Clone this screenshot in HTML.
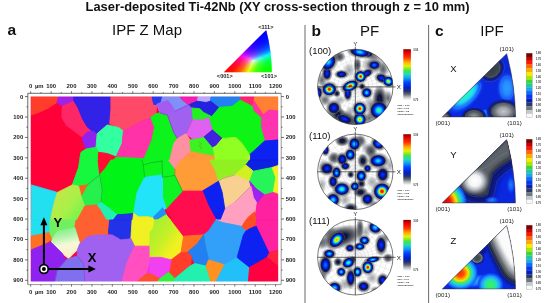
<!DOCTYPE html>
<html><head><meta charset="utf-8"><title>Laser-deposited Ti-42Nb</title>
<style>
html,body{margin:0;padding:0;background:#fff;}
body{width:550px;height:303px;overflow:hidden;font-family:"Liberation Sans",sans-serif;}
svg{display:block}
text{font-family:"Liberation Sans",sans-serif;}
</style></head><body>
<svg width="550" height="303" viewBox="0 0 550 303">
<defs>
<clipPath id="mapclip"><rect x="30.7" y="96.6" width="247.5" height="185.00000000000003"/></clipPath>
<filter id="soft" x="-5%" y="-5%" width="110%" height="110%"><feGaussianBlur stdDeviation="0.45"/></filter>
</defs>
<rect width="550" height="303" fill="#fff"/>

<g clip-path="url(#mapclip)"><g filter="url(#soft)">
<rect x="28.7" y="94.6" width="251.5" height="189.00000000000003" fill="#ff0038"/>
<polygon points="31.2,114.9 38.7,112.4 48.7,107.9 56.9,102.5 62.4,106.2 61.9,117.4 66.1,124.9 82.3,137.3 83.5,143.6 86.0,149.0 81.0,152.3 78.6,165.0 31.2,165.0" fill="#ff0038" stroke="#ff0038" stroke-width="0.9" stroke-linejoin="round"/>
<polygon points="31.2,96.7 58.6,96.7 56.9,102.5 48.7,107.9 38.7,112.4 31.2,114.9" fill="#ff3c2c" stroke="#ff3c2c" stroke-width="0.9" stroke-linejoin="round"/>
<polygon points="58.6,96.7 73.6,96.7 74.1,101.2 62.4,106.2 56.9,102.5" fill="#a020e8" stroke="#a020e8" stroke-width="0.9" stroke-linejoin="round"/>
<polygon points="62.4,106.2 74.1,101.2 78.1,107.9 82.3,118.4 87.3,126.9 92.8,131.6 87.3,132.3 82.3,137.3 66.1,124.9 61.9,117.4" fill="#ff2868" stroke="#ff2868" stroke-width="0.9" stroke-linejoin="round"/>
<polygon points="73.6,96.7 110.9,96.7 110.9,109.9 109.7,123.6 107.2,124.9 97.2,133.6 92.8,131.6 87.3,126.9 82.3,118.4 78.1,107.9 74.1,101.2" fill="#3020e8" stroke="#3020e8" stroke-width="0.9" stroke-linejoin="round"/>
<polygon points="110.9,96.7 152.0,96.7 157.0,104.9 155.8,113.7 150.8,117.4 142.1,121.1 123.4,131.1 118.4,127.4 109.7,123.6 110.9,109.9" fill="#ff4868" stroke="#ff4868" stroke-width="0.9" stroke-linejoin="round"/>
<polygon points="87.3,132.3 93.5,131.1 97.2,134.8 96.0,147.3 86.0,149.0 82.8,141.1 82.3,137.3" fill="#9020f0" stroke="#9020f0" stroke-width="0.9" stroke-linejoin="round"/>
<polygon points="97.2,133.6 107.2,124.9 118.4,127.4 123.4,131.1 122.1,143.6 115.9,156.8 107.2,153.5 98.5,152.3 96.0,147.3" fill="#30ffa0" stroke="#30ffa0" stroke-width="0.9" stroke-linejoin="round"/>
<polygon points="123.4,131.1 142.1,121.1 150.8,117.4 154.5,127.4 152.0,139.8 144.1,158.5 115.9,157.3 122.1,143.6" fill="#ff30a8" stroke="#ff30a8" stroke-width="0.9" stroke-linejoin="round"/>
<polygon points="86.0,149.0 96.0,147.3 98.5,152.3 98.0,165.0 78.6,165.0 81.0,152.3" fill="#18f83c" stroke="#18f83c" stroke-width="0.9" stroke-linejoin="round"/>
<polygon points="98.5,152.3 107.2,153.5 115.9,156.8 109.7,165.0 98.0,165.0" fill="#ff1030" stroke="#ff1030" stroke-width="0.9" stroke-linejoin="round"/>
<polygon points="115.9,157.3 144.1,158.5 144.6,165.0 109.7,165.0" fill="#04f418" stroke="#04f418" stroke-width="0.9" stroke-linejoin="round"/>
<polygon points="150.7,117.4 155.7,113.7 160.0,112.9 167.4,114.9 173.7,132.3 177.4,138.6 173.7,143.6 168.7,165.0 144.5,165.0 144.0,158.5 152.0,139.8 154.5,127.4" fill="#0cf41c" stroke="#0cf41c" stroke-width="0.9" stroke-linejoin="round"/>
<polygon points="152.0,96.7 162.5,96.7 161.2,102.5 157.0,104.4 153.7,104.4" fill="#2838f0" stroke="#2838f0" stroke-width="0.9" stroke-linejoin="round"/>
<polygon points="162.5,96.7 179.9,96.7 182.4,100.0 188.6,104.9 174.9,111.2 167.4,114.9 160.0,112.9 157.0,104.4 161.2,102.5" fill="#8090f8" stroke="#8090f8" stroke-width="0.9" stroke-linejoin="round"/>
<polygon points="161.2,102.5 167.9,100.5 171.9,105.4 174.9,111.2 167.4,114.9 160.0,112.9 157.0,104.4" fill="#a45cf0" stroke="#a45cf0" stroke-width="0.9" stroke-linejoin="round"/>
<polygon points="179.9,96.7 198.1,96.7 197.3,101.2 188.6,104.9 182.4,100.0" fill="#f020b0" stroke="#f020b0" stroke-width="0.9" stroke-linejoin="round"/>
<polygon points="198.1,96.7 211.0,96.7 210.5,101.2 206.0,102.5 197.3,101.2" fill="#b8a8ff" stroke="#b8a8ff" stroke-width="0.9" stroke-linejoin="round"/>
<polygon points="211.0,96.7 240.9,96.7 240.2,100.0 232.2,106.2 218.5,107.4 210.5,101.2" fill="#2080f0" stroke="#2080f0" stroke-width="0.9" stroke-linejoin="round"/>
<polygon points="240.9,96.7 254.6,96.7 254.1,101.2 252.1,106.2 240.2,100.0" fill="#ff2070" stroke="#ff2070" stroke-width="0.9" stroke-linejoin="round"/>
<polygon points="254.6,96.7 279.5,96.7 279.5,111.2 269.1,109.9 263.3,114.9 254.1,101.2" fill="#ff8030" stroke="#ff8030" stroke-width="0.9" stroke-linejoin="round"/>
<polygon points="252.1,106.2 254.1,101.2 263.3,114.9 260.8,117.4 253.4,111.2" fill="#ff30a0" stroke="#ff30a0" stroke-width="0.9" stroke-linejoin="round"/>
<polygon points="263.3,114.9 269.1,109.9 279.5,111.2 279.5,139.8 264.6,141.1 260.8,127.4 260.8,117.4" fill="#ff30b0" stroke="#ff30b0" stroke-width="0.9" stroke-linejoin="round"/>
<polygon points="218.5,107.4 232.2,106.2 240.2,100.0 252.1,106.2 253.4,111.2 260.8,117.4 260.8,127.4 264.6,141.1 249.6,154.8 242.2,143.6 235.9,137.3 222.2,138.6 212.3,129.9 208.5,117.4 211.0,116.2" fill="#08f418" stroke="#08f418" stroke-width="0.9" stroke-linejoin="round"/>
<polygon points="188.6,104.9 197.3,101.2 206.0,102.5 210.5,101.2 218.5,107.4 211.0,116.2 203.6,112.4 199.8,108.7 191.1,107.9" fill="#2020e0" stroke="#2020e0" stroke-width="0.9" stroke-linejoin="round"/>
<polygon points="191.1,107.9 199.8,108.7 203.6,112.4 211.0,116.2 208.5,117.4 203.6,119.9 192.3,119.9" fill="#20f020" stroke="#20f020" stroke-width="0.9" stroke-linejoin="round"/>
<polygon points="174.9,111.2 188.6,104.9 191.1,107.9 192.3,119.9 186.1,133.6 177.4,138.6 173.7,132.3 167.4,114.9" fill="#a060f0" stroke="#a060f0" stroke-width="0.9" stroke-linejoin="round"/>
<polygon points="192.3,119.9 203.6,119.9 208.5,117.4 212.3,129.9 203.6,137.3 193.6,139.8 186.1,133.6" fill="#e060f0" stroke="#e060f0" stroke-width="0.9" stroke-linejoin="round"/>
<polygon points="212.3,129.9 222.2,138.6 216.0,146.0 212.3,147.8 203.6,137.3" fill="#4020e0" stroke="#4020e0" stroke-width="0.9" stroke-linejoin="round"/>
<polygon points="222.2,138.6 235.9,137.3 242.2,143.6 249.6,154.8 244.7,165.0 214.8,165.0 212.3,147.8 216.0,146.0" fill="#90ff20" stroke="#90ff20" stroke-width="0.9" stroke-linejoin="round"/>
<polygon points="177.4,138.6 186.1,133.6 189.9,139.8 191.1,152.3 184.9,157.3 177.4,165.0 168.7,165.0 173.7,143.6" fill="#ff90a0" stroke="#ff90a0" stroke-width="0.9" stroke-linejoin="round"/>
<polygon points="193.6,139.8 203.6,137.3 212.3,147.8 213.8,155.3 208.8,155.5 191.1,151.5 189.9,139.8" fill="#38f420" stroke="#38f420" stroke-width="0.9" stroke-linejoin="round"/>
<polygon points="191.1,151.5 208.8,155.5 213.8,155.3 214.8,165.0 177.4,165.0 184.9,157.3" fill="#ff9838" stroke="#ff9838" stroke-width="0.9" stroke-linejoin="round"/>
<polygon points="264.6,141.1 279.5,139.8 279.5,165.0 249.6,165.0 249.6,154.8" fill="#1020f0" stroke="#1020f0" stroke-width="0.9" stroke-linejoin="round"/>
<polygon points="244.7,165.0 249.6,154.8 249.6,165.0" fill="#d0f020" stroke="#d0f020" stroke-width="0.9" stroke-linejoin="round"/>
<polygon points="31.2,160.0 79.8,160.0 78.6,167.5 72.3,184.9 57.4,192.4 31.2,184.9" fill="#ff0038" stroke="#ff0038" stroke-width="0.9" stroke-linejoin="round"/>
<polygon points="31.2,184.9 57.4,192.4 54.4,202.3 51.2,216.0 49.9,232.2 31.2,235.0" fill="#20e0f0" stroke="#20e0f0" stroke-width="0.9" stroke-linejoin="round"/>
<polygon points="79.8,160.0 98.5,160.0 99.7,174.9 87.3,184.9 78.6,186.2 72.3,184.9 78.6,167.5" fill="#18f83c" stroke="#18f83c" stroke-width="0.9" stroke-linejoin="round"/>
<polygon points="98.0,160.0 110.9,160.0 106.0,167.5 99.7,174.9" fill="#ff1030" stroke="#ff1030" stroke-width="0.9" stroke-linejoin="round"/>
<polygon points="99.7,174.9 106.0,167.5 110.9,160.0 142.1,160.0 143.3,165.0 144.6,177.4 137.1,192.4 133.4,213.6 117.2,214.8 109.7,208.6 101.0,202.3 102.2,189.9" fill="#04f418" stroke="#04f418" stroke-width="0.9" stroke-linejoin="round"/>
<polygon points="142.1,160.0 162.0,160.0 162.0,174.9 144.6,177.4 143.3,165.0" fill="#0cf41c" stroke="#0cf41c" stroke-width="0.9" stroke-linejoin="round"/>
<polygon points="144.6,177.4 162.0,174.9 164.5,177.4 164.5,209.8 162.7,208.6 153.5,216.8 138.3,216.8 133.6,213.3 137.1,192.4" fill="#24e4f8" stroke="#24e4f8" stroke-width="0.9" stroke-linejoin="round"/>
<polygon points="87.3,184.9 99.7,174.9 102.2,189.9 101.0,202.3 97.2,204.8 84.8,206.1 81.0,196.1" fill="#28f04c" stroke="#28f04c" stroke-width="0.9" stroke-linejoin="round"/>
<polygon points="78.6,186.2 87.3,184.9 81.0,196.1" fill="#ff6020" stroke="#ff6020" stroke-width="0.9" stroke-linejoin="round"/>
<linearGradient id="gg0" gradientUnits="userSpaceOnUse" x1="54.9" y1="197.4" x2="82.3" y2="217.3"><stop offset="0" stop-color="#c0e848"/><stop offset="0.5" stop-color="#a8f048"/><stop offset="1" stop-color="#70f448"/></linearGradient>
<polygon points="57.4,192.4 72.3,184.9 78.6,186.2 81.0,196.1 84.8,206.1 76.1,222.3 57.4,232.2 49.9,232.2 51.2,216.0 54.4,202.3" fill="url(#gg0)" stroke="url(#gg0)" stroke-width="0.9" stroke-linejoin="round"/>
<polygon points="84.8,206.1 97.2,204.8 101.0,209.8 109.7,224.8 107.2,235.0 74.8,235.0 76.1,222.3" fill="#ff6030" stroke="#ff6030" stroke-width="0.9" stroke-linejoin="round"/>
<polygon points="97.2,204.8 101.0,202.3 109.7,208.6 117.2,214.8 109.7,224.8 101.0,209.8" fill="#20f0b0" stroke="#20f0b0" stroke-width="0.9" stroke-linejoin="round"/>
<polygon points="117.2,214.8 133.4,213.6 132.1,227.3 129.6,235.0 110.9,235.0 109.7,224.8" fill="#2030e8" stroke="#2030e8" stroke-width="0.9" stroke-linejoin="round"/>
<polygon points="133.6,213.3 138.3,216.8 153.5,216.8 156.3,223.3 155.8,235.0 129.6,235.0 132.1,227.3" fill="#f0f020" stroke="#f0f020" stroke-width="0.9" stroke-linejoin="round"/>
<polygon points="162.7,207.8 166.5,215.0 156.3,223.3 153.5,216.8" fill="#2090f0" stroke="#2090f0" stroke-width="0.9" stroke-linejoin="round"/>
<polygon points="49.9,232.2 57.4,232.2 62.4,235.0 48.7,235.0" fill="#80ffb0" stroke="#80ffb0" stroke-width="0.9" stroke-linejoin="round"/>
<polygon points="162.0,160.0 168.7,160.0 174.9,168.7 174.9,175.4 162.5,177.4" fill="#10f420" stroke="#10f420" stroke-width="0.9" stroke-linejoin="round"/>
<polygon points="168.7,160.0 181.1,160.0 174.9,168.7" fill="#ff90a0" stroke="#ff90a0" stroke-width="0.9" stroke-linejoin="round"/>
<polygon points="181.1,160.0 209.8,160.0 215.3,170.0 218.5,181.2 202.3,191.1 182.4,191.1 174.9,175.4 174.9,168.7" fill="#ff9c38" stroke="#ff9c38" stroke-width="0.9" stroke-linejoin="round"/>
<polygon points="209.8,160.0 249.6,160.0 245.9,165.0 237.2,172.5 234.7,174.9 222.2,178.7 218.5,181.2 215.3,170.0" fill="#90f020" stroke="#90f020" stroke-width="0.9" stroke-linejoin="round"/>
<polygon points="249.6,160.0 279.5,160.0 279.5,165.0 272.1,167.5 253.4,171.2 245.9,165.0" fill="#1020e0" stroke="#1020e0" stroke-width="0.9" stroke-linejoin="round"/>
<polygon points="237.2,172.5 245.9,165.0 253.4,171.2 249.6,181.2 234.7,174.9" fill="#d0f020" stroke="#d0f020" stroke-width="0.9" stroke-linejoin="round"/>
<polygon points="253.4,171.2 272.1,167.5 275.8,177.4 273.3,192.4 264.6,194.9 255.9,188.6 249.6,181.2" fill="#28f458" stroke="#28f458" stroke-width="0.9" stroke-linejoin="round"/>
<polygon points="272.1,167.5 279.5,165.0 279.5,194.9 273.3,192.4 275.8,177.4" fill="#f0f020" stroke="#f0f020" stroke-width="0.9" stroke-linejoin="round"/>
<polygon points="218.5,181.2 222.2,178.7 234.7,174.9 249.6,181.2 250.9,186.2 234.7,202.3 224.7,208.6 222.2,192.4" fill="#f8d090" stroke="#f8d090" stroke-width="0.9" stroke-linejoin="round"/>
<polygon points="249.6,181.2 255.9,188.6 264.6,194.9 257.1,203.6 253.4,197.4 250.9,186.2" fill="#a020f0" stroke="#a020f0" stroke-width="0.9" stroke-linejoin="round"/>
<polygon points="234.7,202.3 250.9,186.2 253.4,197.4 257.1,203.6 255.9,212.3 240.9,227.3 219.7,221.0 224.7,208.6" fill="#ffa0c0" stroke="#ffa0c0" stroke-width="0.9" stroke-linejoin="round"/>
<polygon points="264.6,194.9 273.3,192.4 279.5,194.9 279.5,235.0 257.1,235.0 254.6,223.5 255.9,212.3 257.1,203.6" fill="#ff20a0" stroke="#ff20a0" stroke-width="0.9" stroke-linejoin="round"/>
<polygon points="240.9,227.3 248.1,217.3 254.6,211.8 256.1,223.8 245.7,231.5" fill="#ff5020" stroke="#ff5020" stroke-width="0.9" stroke-linejoin="round"/>
<polygon points="202.3,191.1 218.5,181.2 222.2,192.4 224.7,208.6 219.7,221.0 216.0,219.8 208.5,206.1" fill="#1020f0" stroke="#1020f0" stroke-width="0.9" stroke-linejoin="round"/>
<polygon points="182.4,191.1 202.3,191.1 208.5,206.1 216.0,219.8 208.5,226.0 197.3,235.0 182.4,235.0 166.2,208.6" fill="#ff1050" stroke="#ff1050" stroke-width="0.9" stroke-linejoin="round"/>
<polygon points="162.5,177.4 174.9,175.4 182.4,191.1 166.2,208.6 162.5,197.4" fill="#10f420" stroke="#10f420" stroke-width="0.9" stroke-linejoin="round"/>
<polygon points="150.0,176.2 162.5,177.4 162.5,197.4 166.2,208.6 162.7,208.6 153.6,216.8 150.0,216.8" fill="#24e4f8" stroke="#24e4f8" stroke-width="0.9" stroke-linejoin="round"/>
<polygon points="162.7,207.8 166.4,215.0 156.5,223.3 153.6,216.8" fill="#2090f0" stroke="#2090f0" stroke-width="0.9" stroke-linejoin="round"/>
<linearGradient id="gg1" gradientUnits="userSpaceOnUse" x1="152.5" y1="224.8" x2="182.4" y2="247.2"><stop offset="0" stop-color="#a8f030"/><stop offset="0.45" stop-color="#c4f028"/><stop offset="0.8" stop-color="#f0f020"/><stop offset="1" stop-color="#f4f020"/></linearGradient>
<polygon points="153.7,222.3 166.2,214.8 182.4,235.0 150.0,235.0 150.0,224.8" fill="url(#gg1)" stroke="url(#gg1)" stroke-width="0.9" stroke-linejoin="round"/>
<polygon points="208.5,226.0 216.0,219.8 219.7,221.0 240.9,227.3 245.9,231.0 243.4,235.0 197.3,235.0" fill="#30a0f8" stroke="#30a0f8" stroke-width="0.9" stroke-linejoin="round"/>
<polygon points="31.2,220.0 49.9,220.0 49.9,232.5 31.2,236.2" fill="#20e0f0" stroke="#20e0f0" stroke-width="0.9" stroke-linejoin="round"/>
<polygon points="31.2,236.2 49.9,232.5 52.4,238.7 46.2,243.7 31.2,249.9" fill="#ff7020" stroke="#ff7020" stroke-width="0.9" stroke-linejoin="round"/>
<polygon points="49.9,220.0 76.1,220.0 74.8,227.5 57.4,231.2 52.4,238.7 49.9,232.5" fill="#70f060" stroke="#70f060" stroke-width="0.9" stroke-linejoin="round"/>
<polygon points="76.1,220.0 109.7,220.0 108.4,232.5 99.7,234.9 88.5,236.2 79.8,243.7 74.8,227.5" fill="#ff6030" stroke="#ff6030" stroke-width="0.9" stroke-linejoin="round"/>
<polygon points="109.7,220.0 132.1,220.0 130.9,238.7 120.9,239.9 112.2,234.9 108.4,232.5" fill="#2030e8" stroke="#2030e8" stroke-width="0.9" stroke-linejoin="round"/>
<polygon points="132.1,220.0 154.5,220.0 155.8,227.5 149.5,246.2 134.6,246.2 130.9,238.7" fill="#f0f020" stroke="#f0f020" stroke-width="0.9" stroke-linejoin="round"/>
<polygon points="154.5,220.0 164.5,220.0 164.5,257.4 152.0,257.4 149.5,246.2 155.8,227.5" fill="#90f040" stroke="#90f040" stroke-width="0.9" stroke-linejoin="round"/>
<linearGradient id="gg2" gradientUnits="userSpaceOnUse" x1="62.4" y1="228.7" x2="68.6" y2="257.4"><stop offset="0" stop-color="#80f088"/><stop offset="0.3" stop-color="#b8f4b0"/><stop offset="0.55" stop-color="#f4f8d8"/><stop offset="1" stop-color="#fff0c4"/></linearGradient>
<polygon points="52.4,238.7 57.4,231.2 74.8,227.5 79.8,243.7 77.3,249.9 68.6,258.6 62.4,253.6 51.2,242.4" fill="url(#gg2)" stroke="url(#gg2)" stroke-width="0.9" stroke-linejoin="round"/>
<polygon points="31.2,249.9 46.2,243.7 51.2,242.4 62.4,253.6 66.1,259.9 57.4,269.8 54.9,281.5 31.2,281.5" fill="#9020f0" stroke="#9020f0" stroke-width="0.9" stroke-linejoin="round"/>
<polygon points="66.1,259.9 68.6,258.6 77.3,256.1 83.5,263.6 84.8,281.5 54.9,281.5 57.4,269.8" fill="#8070f0" stroke="#8070f0" stroke-width="0.9" stroke-linejoin="round"/>
<polygon points="77.3,249.9 79.8,243.7 88.5,236.2 99.7,234.9 112.2,234.9 120.9,239.9 130.9,238.7 134.6,246.2 127.1,262.3 122.1,281.5 84.8,281.5 83.5,263.6 77.3,256.1" fill="#a060f0" stroke="#a060f0" stroke-width="0.9" stroke-linejoin="round"/>
<polygon points="134.6,246.2 149.5,246.2 152.0,257.4 147.1,273.6 137.1,281.5 122.1,281.5 127.1,262.3" fill="#ff50c0" stroke="#ff50c0" stroke-width="0.9" stroke-linejoin="round"/>
<polygon points="152.0,257.4 164.5,257.4 164.5,273.6 149.5,273.6 147.1,273.6" fill="#f030f0" stroke="#f030f0" stroke-width="0.9" stroke-linejoin="round"/>
<polygon points="147.1,273.6 164.5,273.6 164.5,281.5 137.1,281.5" fill="#ff5030" stroke="#ff5030" stroke-width="0.9" stroke-linejoin="round"/>
<linearGradient id="gg3" gradientUnits="userSpaceOnUse" x1="152.5" y1="225.0" x2="182.4" y2="247.4"><stop offset="0" stop-color="#a8f030"/><stop offset="0.45" stop-color="#c4f028"/><stop offset="0.8" stop-color="#f0f020"/><stop offset="1" stop-color="#f4f020"/></linearGradient>
<polygon points="154.5,220.0 171.2,220.0 183.6,236.2 181.1,252.4 171.2,259.9 161.2,257.4 150.0,257.4 150.0,232.5 153.7,227.5" fill="url(#gg3)" stroke="url(#gg3)" stroke-width="0.9" stroke-linejoin="round"/>
<polygon points="171.2,220.0 216.0,220.0 208.5,231.2 203.6,234.9 183.6,236.2" fill="#ff1050" stroke="#ff1050" stroke-width="0.9" stroke-linejoin="round"/>
<polygon points="216.0,220.0 245.9,220.0 242.2,226.2 224.7,223.7" fill="#ffa0c0" stroke="#ffa0c0" stroke-width="0.9" stroke-linejoin="round"/>
<polygon points="241.7,226.7 245.9,220.0 256.6,220.0 256.1,223.7 249.6,228.7 245.9,231.5" fill="#ff5020" stroke="#ff5020" stroke-width="0.9" stroke-linejoin="round"/>
<polygon points="208.5,231.2 216.0,220.0 222.2,222.5 240.9,226.2 245.9,231.2 243.4,234.9 237.2,257.4 224.7,264.8 208.5,259.9 204.8,243.7 203.6,234.9" fill="#30a0f8" stroke="#30a0f8" stroke-width="0.9" stroke-linejoin="round"/>
<polygon points="183.6,236.2 203.6,234.9 197.3,243.7 187.4,252.4 181.1,252.4" fill="#ff7020" stroke="#ff7020" stroke-width="0.9" stroke-linejoin="round"/>
<polygon points="203.6,234.9 204.8,243.7 208.5,259.9 206.0,266.1 194.8,263.6 191.1,256.1 187.4,252.4 197.3,243.7" fill="#2080f0" stroke="#2080f0" stroke-width="0.9" stroke-linejoin="round"/>
<polygon points="171.2,259.9 181.1,252.4 187.4,252.4 191.6,256.1 190.4,267.3 176.9,279.8 168.7,272.8" fill="#ff3c2c" stroke="#ff3c2c" stroke-width="0.9" stroke-linejoin="round"/>
<polygon points="150.0,257.4 161.2,257.4 171.2,259.9 168.7,272.3 160.0,278.5 150.0,273.6" fill="#f040f0" stroke="#f040f0" stroke-width="0.9" stroke-linejoin="round"/>
<polygon points="150.0,273.6 160.0,278.5 157.5,281.5 150.0,281.5" fill="#ff5030" stroke="#ff5030" stroke-width="0.9" stroke-linejoin="round"/>
<polygon points="160.0,278.5 168.7,272.3 174.9,278.5 173.7,281.5 157.5,281.5" fill="#30f040" stroke="#30f040" stroke-width="0.9" stroke-linejoin="round"/>
<polygon points="174.9,278.5 189.9,266.1 194.8,263.6 206.0,266.1 211.0,281.5 173.7,281.5" fill="#20f0b0" stroke="#20f0b0" stroke-width="0.9" stroke-linejoin="round"/>
<polygon points="206.0,266.1 208.5,259.9 224.7,264.8 216.0,281.5 211.0,281.5" fill="#ff9020" stroke="#ff9020" stroke-width="0.9" stroke-linejoin="round"/>
<polygon points="216.0,281.5 224.7,264.8 237.2,257.4 249.6,267.3 248.4,281.5" fill="#20c0f8" stroke="#20c0f8" stroke-width="0.9" stroke-linejoin="round"/>
<polygon points="243.4,234.9 245.9,231.2 249.6,228.7 257.1,226.2 269.6,252.4 267.1,257.4 249.6,267.3 237.2,257.4" fill="#1020f0" stroke="#1020f0" stroke-width="0.9" stroke-linejoin="round"/>
<polygon points="256.6,220.0 279.5,220.0 279.5,249.9 269.6,252.4 257.1,226.2 256.1,223.7" fill="#ff20a0" stroke="#ff20a0" stroke-width="0.9" stroke-linejoin="round"/>
<polygon points="267.1,257.4 269.6,252.4 279.5,249.9 279.5,267.3 274.5,263.6" fill="#ff2040" stroke="#ff2040" stroke-width="0.9" stroke-linejoin="round"/>
<polygon points="249.6,267.3 267.1,257.4 274.5,263.6 279.5,267.3 279.5,281.5 248.4,281.5" fill="#ff0040" stroke="#ff0040" stroke-width="0.9" stroke-linejoin="round"/>
<polyline points="142.1,160.0 143.3,165.0 144.6,177.4" fill="none" stroke="#0a5a10" stroke-width="0.45" opacity="0.7"/>
<polyline points="143.3,165.0 152.0,162.5 162.0,161.2" fill="none" stroke="#0a5a10" stroke-width="0.45" opacity="0.7"/>
<polyline points="162.0,160.0 162.5,177.4 174.9,175.4" fill="none" stroke="#0a5a10" stroke-width="0.45" opacity="0.7"/>
<polyline points="174.9,168.7 174.9,175.4 182.4,191.1" fill="none" stroke="#0a5a10" stroke-width="0.45" opacity="0.7"/>
<polyline points="99.7,174.9 102.2,189.9 101.0,202.3" fill="none" stroke="#0a5a10" stroke-width="0.45" opacity="0.7"/>
<polyline points="87.3,184.9 99.7,174.9" fill="none" stroke="#0a5a10" stroke-width="0.45" opacity="0.7"/>
<polyline points="160.0,112.9 167.4,114.9 173.7,132.3 177.4,138.6" fill="none" stroke="#2a4a30" stroke-width="0.45" opacity="0.7"/>
<polyline points="174.9,111.2 188.6,104.9" fill="none" stroke="#503890" stroke-width="0.45" opacity="0.7"/>
<polyline points="192.3,119.9 186.1,133.6" fill="none" stroke="#604090" stroke-width="0.45" opacity="0.7"/>
<polyline points="218.5,181.2 222.2,178.7 234.7,174.9" fill="none" stroke="#706030" stroke-width="0.45" opacity="0.7"/>
<polyline points="234.7,202.3 250.9,186.2" fill="none" stroke="#907060" stroke-width="0.45" opacity="0.7"/>
<polyline points="77.3,256.1 83.5,263.6 84.8,281.5" fill="none" stroke="#5040a0" stroke-width="0.45" opacity="0.7"/>
<polyline points="66.1,259.9 57.4,269.8 54.9,281.5" fill="none" stroke="#402090" stroke-width="0.45" opacity="0.7"/>
<polyline points="198.8,141.8 201.3,143.6 199.3,145.8 201.6,147.8 200.3,149.3" fill="none" stroke="#d03010" stroke-width="0.45" opacity="0.7"/>
</g></g>
<text x="85.6" y="10.6" font-size="12.6" font-weight="bold" text-anchor="start" fill="#111" textLength="384" lengthAdjust="spacingAndGlyphs">Laser-deposited Ti-42Nb (XY cross-section through z = 10 mm)</text>
<text x="7.4" y="35.3" font-size="15.5" font-weight="bold" text-anchor="start" fill="#111" >a</text>
<text x="112" y="35.3" font-size="15" font-weight="normal" text-anchor="start" fill="#111" >IPF Z Map</text>
<text x="311.5" y="35.5" font-size="15.5" font-weight="bold" text-anchor="start" fill="#111" >b</text>
<text x="360" y="35.5" font-size="15" font-weight="normal" text-anchor="start" fill="#111" >PF</text>
<text x="435" y="35.5" font-size="15.5" font-weight="bold" text-anchor="start" fill="#111" >c</text>
<text x="480.3" y="35.5" font-size="15" font-weight="normal" text-anchor="start" fill="#111" >IPF</text>
<rect x="304.5" y="25" width="1.0" height="278" fill="#6a6a6a"/>
<rect x="428.1" y="25" width="1.0" height="278" fill="#6a6a6a"/>
<defs>
<linearGradient id="k0" gradientUnits="userSpaceOnUse" x1="265.60" y1="0" x2="266.39" y2="0"><stop offset="0.000" stop-color="#0000ff"/><stop offset="0.167" stop-color="#0000ff"/><stop offset="0.333" stop-color="#0000ff"/><stop offset="0.500" stop-color="#0000ff"/><stop offset="0.667" stop-color="#0000ff"/><stop offset="0.833" stop-color="#0000ff"/><stop offset="1.000" stop-color="#0000ff"/></linearGradient>
<linearGradient id="k1" gradientUnits="userSpaceOnUse" x1="264.60" y1="0" x2="266.65" y2="0"><stop offset="0.000" stop-color="#0000ff"/><stop offset="0.167" stop-color="#0000ff"/><stop offset="0.333" stop-color="#0000ff"/><stop offset="0.500" stop-color="#0000ff"/><stop offset="0.667" stop-color="#0000ff"/><stop offset="0.833" stop-color="#0000ff"/><stop offset="1.000" stop-color="#0000ff"/></linearGradient>
<linearGradient id="k2" gradientUnits="userSpaceOnUse" x1="263.60" y1="0" x2="266.90" y2="0"><stop offset="0.000" stop-color="#0100ff"/><stop offset="0.167" stop-color="#0100ff"/><stop offset="0.333" stop-color="#0000ff"/><stop offset="0.500" stop-color="#0000ff"/><stop offset="0.667" stop-color="#0000ff"/><stop offset="0.833" stop-color="#0001ff"/><stop offset="1.000" stop-color="#0001ff"/></linearGradient>
<linearGradient id="k3" gradientUnits="userSpaceOnUse" x1="262.60" y1="0" x2="267.15" y2="0"><stop offset="0.000" stop-color="#0200ff"/><stop offset="0.167" stop-color="#0200ff"/><stop offset="0.333" stop-color="#0100ff"/><stop offset="0.500" stop-color="#0000ff"/><stop offset="0.667" stop-color="#0001ff"/><stop offset="0.833" stop-color="#0002ff"/><stop offset="1.000" stop-color="#0003ff"/></linearGradient>
<linearGradient id="k4" gradientUnits="userSpaceOnUse" x1="261.60" y1="0" x2="267.39" y2="0"><stop offset="0.000" stop-color="#0400ff"/><stop offset="0.167" stop-color="#0300ff"/><stop offset="0.333" stop-color="#0200ff"/><stop offset="0.500" stop-color="#0101ff"/><stop offset="0.667" stop-color="#0002ff"/><stop offset="0.833" stop-color="#0003ff"/><stop offset="1.000" stop-color="#0005ff"/></linearGradient>
<linearGradient id="k5" gradientUnits="userSpaceOnUse" x1="260.60" y1="0" x2="267.62" y2="0"><stop offset="0.000" stop-color="#0600ff"/><stop offset="0.167" stop-color="#0400ff"/><stop offset="0.333" stop-color="#0301ff"/><stop offset="0.500" stop-color="#0202ff"/><stop offset="0.667" stop-color="#0103ff"/><stop offset="0.833" stop-color="#0005ff"/><stop offset="1.000" stop-color="#0007ff"/></linearGradient>
<linearGradient id="k6" gradientUnits="userSpaceOnUse" x1="259.60" y1="0" x2="267.85" y2="0"><stop offset="0.000" stop-color="#0900ff"/><stop offset="0.167" stop-color="#0600ff"/><stop offset="0.333" stop-color="#0401ff"/><stop offset="0.500" stop-color="#0203ff"/><stop offset="0.667" stop-color="#0105ff"/><stop offset="0.833" stop-color="#0007ff"/><stop offset="1.000" stop-color="#000aff"/></linearGradient>
<linearGradient id="k7" gradientUnits="userSpaceOnUse" x1="258.60" y1="0" x2="268.07" y2="0"><stop offset="0.000" stop-color="#0c00ff"/><stop offset="0.167" stop-color="#0900ff"/><stop offset="0.333" stop-color="#0602ff"/><stop offset="0.500" stop-color="#0304ff"/><stop offset="0.667" stop-color="#0106ff"/><stop offset="0.833" stop-color="#0009ff"/><stop offset="1.000" stop-color="#000dff"/></linearGradient>
<linearGradient id="k8" gradientUnits="userSpaceOnUse" x1="257.60" y1="0" x2="268.28" y2="0"><stop offset="0.000" stop-color="#0f00ff"/><stop offset="0.167" stop-color="#0b00ff"/><stop offset="0.333" stop-color="#0802ff"/><stop offset="0.500" stop-color="#0405ff"/><stop offset="0.667" stop-color="#0208ff"/><stop offset="0.833" stop-color="#000cff"/><stop offset="1.000" stop-color="#0011ff"/></linearGradient>
<linearGradient id="k9" gradientUnits="userSpaceOnUse" x1="256.60" y1="0" x2="268.49" y2="0"><stop offset="0.000" stop-color="#1300ff"/><stop offset="0.167" stop-color="#0e01ff"/><stop offset="0.333" stop-color="#0a03ff"/><stop offset="0.500" stop-color="#0606ff"/><stop offset="0.667" stop-color="#030aff"/><stop offset="0.833" stop-color="#0010ff"/><stop offset="1.000" stop-color="#0015ff"/></linearGradient>
<linearGradient id="k10" gradientUnits="userSpaceOnUse" x1="255.60" y1="0" x2="268.69" y2="0"><stop offset="0.000" stop-color="#1800ff"/><stop offset="0.167" stop-color="#1201ff"/><stop offset="0.333" stop-color="#0c04ff"/><stop offset="0.500" stop-color="#0708ff"/><stop offset="0.667" stop-color="#030dff"/><stop offset="0.833" stop-color="#0113ff"/><stop offset="1.000" stop-color="#001bff"/></linearGradient>
<linearGradient id="k11" gradientUnits="userSpaceOnUse" x1="254.60" y1="0" x2="268.89" y2="0"><stop offset="0.000" stop-color="#1d00ff"/><stop offset="0.167" stop-color="#1601ff"/><stop offset="0.333" stop-color="#0f05ff"/><stop offset="0.500" stop-color="#090aff"/><stop offset="0.667" stop-color="#0410ff"/><stop offset="0.833" stop-color="#0118ff"/><stop offset="1.000" stop-color="#0021ff"/></linearGradient>
<linearGradient id="k12" gradientUnits="userSpaceOnUse" x1="253.60" y1="0" x2="269.08" y2="0"><stop offset="0.000" stop-color="#2400ff"/><stop offset="0.167" stop-color="#1a01ff"/><stop offset="0.333" stop-color="#1206ff"/><stop offset="0.500" stop-color="#0b0cff"/><stop offset="0.667" stop-color="#0514ff"/><stop offset="0.833" stop-color="#011dff"/><stop offset="1.000" stop-color="#0028ff"/></linearGradient>
<linearGradient id="k13" gradientUnits="userSpaceOnUse" x1="252.60" y1="0" x2="269.26" y2="0"><stop offset="0.000" stop-color="#2b00ff"/><stop offset="0.167" stop-color="#2002ff"/><stop offset="0.333" stop-color="#1607ff"/><stop offset="0.500" stop-color="#0d0eff"/><stop offset="0.667" stop-color="#0718ff"/><stop offset="0.833" stop-color="#0223ff"/><stop offset="1.000" stop-color="#0030ff"/></linearGradient>
<linearGradient id="k14" gradientUnits="userSpaceOnUse" x1="251.60" y1="0" x2="269.43" y2="0"><stop offset="0.000" stop-color="#3300ff"/><stop offset="0.167" stop-color="#2602ff"/><stop offset="0.333" stop-color="#1a08ff"/><stop offset="0.500" stop-color="#1011ff"/><stop offset="0.667" stop-color="#081cff"/><stop offset="0.833" stop-color="#022aff"/><stop offset="1.000" stop-color="#0039ff"/></linearGradient>
<linearGradient id="k15" gradientUnits="userSpaceOnUse" x1="250.60" y1="0" x2="269.60" y2="0"><stop offset="0.000" stop-color="#3c00ff"/><stop offset="0.167" stop-color="#2d03ff"/><stop offset="0.333" stop-color="#1f0aff"/><stop offset="0.500" stop-color="#1315ff"/><stop offset="0.667" stop-color="#0922ff"/><stop offset="0.833" stop-color="#0332ff"/><stop offset="1.000" stop-color="#0044ff"/></linearGradient>
<linearGradient id="k16" gradientUnits="userSpaceOnUse" x1="249.60" y1="0" x2="269.76" y2="0"><stop offset="0.000" stop-color="#4600ff"/><stop offset="0.167" stop-color="#3403ff"/><stop offset="0.333" stop-color="#240cff"/><stop offset="0.500" stop-color="#1718ff"/><stop offset="0.667" stop-color="#0b28ff"/><stop offset="0.833" stop-color="#033bff"/><stop offset="1.000" stop-color="#0050ff"/></linearGradient>
<linearGradient id="k17" gradientUnits="userSpaceOnUse" x1="248.60" y1="0" x2="269.92" y2="0"><stop offset="0.000" stop-color="#5200ff"/><stop offset="0.167" stop-color="#3e04ff"/><stop offset="0.333" stop-color="#2b0eff"/><stop offset="0.500" stop-color="#1b1dff"/><stop offset="0.667" stop-color="#0d2fff"/><stop offset="0.833" stop-color="#0445ff"/><stop offset="1.000" stop-color="#005eff"/></linearGradient>
<linearGradient id="k18" gradientUnits="userSpaceOnUse" x1="247.60" y1="0" x2="270.07" y2="0"><stop offset="0.000" stop-color="#6000ff"/><stop offset="0.167" stop-color="#4805ff"/><stop offset="0.333" stop-color="#3211ff"/><stop offset="0.500" stop-color="#1f22ff"/><stop offset="0.667" stop-color="#1037ff"/><stop offset="0.833" stop-color="#0551ff"/><stop offset="1.000" stop-color="#006fff"/></linearGradient>
<linearGradient id="k19" gradientUnits="userSpaceOnUse" x1="246.60" y1="0" x2="270.21" y2="0"><stop offset="0.000" stop-color="#7000ff"/><stop offset="0.167" stop-color="#5406ff"/><stop offset="0.333" stop-color="#3b14ff"/><stop offset="0.500" stop-color="#2528ff"/><stop offset="0.667" stop-color="#1241ff"/><stop offset="0.833" stop-color="#055fff"/><stop offset="1.000" stop-color="#0082ff"/></linearGradient>
<linearGradient id="k20" gradientUnits="userSpaceOnUse" x1="245.60" y1="0" x2="270.35" y2="0"><stop offset="0.000" stop-color="#8300ff"/><stop offset="0.167" stop-color="#6207ff"/><stop offset="0.333" stop-color="#4417ff"/><stop offset="0.500" stop-color="#2b2eff"/><stop offset="0.667" stop-color="#164cff"/><stop offset="0.833" stop-color="#066fff"/><stop offset="1.000" stop-color="#0098ff"/></linearGradient>
<linearGradient id="k21" gradientUnits="userSpaceOnUse" x1="244.60" y1="0" x2="270.48" y2="0"><stop offset="0.000" stop-color="#9800ff"/><stop offset="0.167" stop-color="#7208ff"/><stop offset="0.333" stop-color="#501bff"/><stop offset="0.500" stop-color="#3236ff"/><stop offset="0.667" stop-color="#1959ff"/><stop offset="0.833" stop-color="#0882ff"/><stop offset="1.000" stop-color="#00b2ff"/></linearGradient>
<linearGradient id="k22" gradientUnits="userSpaceOnUse" x1="243.60" y1="0" x2="270.61" y2="0"><stop offset="0.000" stop-color="#b100ff"/><stop offset="0.167" stop-color="#8509ff"/><stop offset="0.333" stop-color="#5d20ff"/><stop offset="0.500" stop-color="#3a40ff"/><stop offset="0.667" stop-color="#1e68ff"/><stop offset="0.833" stop-color="#0998ff"/><stop offset="1.000" stop-color="#00d0ff"/></linearGradient>
<linearGradient id="k23" gradientUnits="userSpaceOnUse" x1="242.60" y1="0" x2="270.73" y2="0"><stop offset="0.000" stop-color="#ce00ff"/><stop offset="0.167" stop-color="#9b0bff"/><stop offset="0.333" stop-color="#6d25ff"/><stop offset="0.500" stop-color="#444aff"/><stop offset="0.667" stop-color="#237aff"/><stop offset="0.833" stop-color="#0bb2ff"/><stop offset="1.000" stop-color="#00f3ff"/></linearGradient>
<linearGradient id="k24" gradientUnits="userSpaceOnUse" x1="241.60" y1="0" x2="270.84" y2="0"><stop offset="0.000" stop-color="#f000ff"/><stop offset="0.167" stop-color="#b50dff"/><stop offset="0.333" stop-color="#7f2cff"/><stop offset="0.500" stop-color="#5057ff"/><stop offset="0.667" stop-color="#298fff"/><stop offset="0.833" stop-color="#0dd1ff"/><stop offset="1.000" stop-color="#00ffe3"/></linearGradient>
<linearGradient id="k25" gradientUnits="userSpaceOnUse" x1="240.60" y1="0" x2="270.94" y2="0"><stop offset="0.000" stop-color="#ff00e6"/><stop offset="0.167" stop-color="#d40fff"/><stop offset="0.333" stop-color="#9533ff"/><stop offset="0.500" stop-color="#5e67ff"/><stop offset="0.667" stop-color="#30a8ff"/><stop offset="0.833" stop-color="#0ff6ff"/><stop offset="1.000" stop-color="#00ffc1"/></linearGradient>
<linearGradient id="k26" gradientUnits="userSpaceOnUse" x1="239.60" y1="0" x2="271.04" y2="0"><stop offset="0.000" stop-color="#ff00c4"/><stop offset="0.167" stop-color="#f912ff"/><stop offset="0.333" stop-color="#af3dff"/><stop offset="0.500" stop-color="#6f79ff"/><stop offset="0.667" stop-color="#39c6ff"/><stop offset="0.833" stop-color="#0fffe0"/><stop offset="1.000" stop-color="#00ffa4"/></linearGradient>
<linearGradient id="k27" gradientUnits="userSpaceOnUse" x1="238.60" y1="0" x2="271.14" y2="0"><stop offset="0.000" stop-color="#ff00a7"/><stop offset="0.167" stop-color="#ff13dc"/><stop offset="0.333" stop-color="#cf48ff"/><stop offset="0.500" stop-color="#8390ff"/><stop offset="0.667" stop-color="#43ebff"/><stop offset="0.833" stop-color="#0fffbd"/><stop offset="1.000" stop-color="#00ff8a"/></linearGradient>
<linearGradient id="k28" gradientUnits="userSpaceOnUse" x1="237.60" y1="0" x2="271.23" y2="0"><stop offset="0.000" stop-color="#ff008d"/><stop offset="0.167" stop-color="#ff13ba"/><stop offset="0.333" stop-color="#f656ff"/><stop offset="0.500" stop-color="#9cabff"/><stop offset="0.667" stop-color="#49ffe8"/><stop offset="0.833" stop-color="#0fff9e"/><stop offset="1.000" stop-color="#00ff74"/></linearGradient>
<linearGradient id="k29" gradientUnits="userSpaceOnUse" x1="236.60" y1="0" x2="271.31" y2="0"><stop offset="0.000" stop-color="#ff0076"/><stop offset="0.167" stop-color="#ff139b"/><stop offset="0.333" stop-color="#ff59dc"/><stop offset="0.500" stop-color="#bacdff"/><stop offset="0.667" stop-color="#49ffc1"/><stop offset="0.833" stop-color="#0fff84"/><stop offset="1.000" stop-color="#00ff61"/></linearGradient>
<linearGradient id="k30" gradientUnits="userSpaceOnUse" x1="235.60" y1="0" x2="271.38" y2="0"><stop offset="0.000" stop-color="#ff0062"/><stop offset="0.167" stop-color="#ff1381"/><stop offset="0.333" stop-color="#ff59b6"/><stop offset="0.500" stop-color="#e1f9ff"/><stop offset="0.667" stop-color="#49ffa0"/><stop offset="0.833" stop-color="#0fff6d"/><stop offset="1.000" stop-color="#00ff50"/></linearGradient>
<linearGradient id="k31" gradientUnits="userSpaceOnUse" x1="234.60" y1="0" x2="271.45" y2="0"><stop offset="0.000" stop-color="#ff0050"/><stop offset="0.167" stop-color="#ff136a"/><stop offset="0.333" stop-color="#ff5996"/><stop offset="0.500" stop-color="#e6ffd5"/><stop offset="0.667" stop-color="#49ff82"/><stop offset="0.833" stop-color="#0fff59"/><stop offset="1.000" stop-color="#00ff41"/></linearGradient>
<linearGradient id="k32" gradientUnits="userSpaceOnUse" x1="233.60" y1="0" x2="271.51" y2="0"><stop offset="0.000" stop-color="#ff0041"/><stop offset="0.167" stop-color="#ff1356"/><stop offset="0.333" stop-color="#ff5a79"/><stop offset="0.500" stop-color="#e5ffac"/><stop offset="0.667" stop-color="#49ff69"/><stop offset="0.833" stop-color="#0fff48"/><stop offset="1.000" stop-color="#00ff35"/></linearGradient>
<linearGradient id="k33" gradientUnits="userSpaceOnUse" x1="232.60" y1="0" x2="271.57" y2="0"><stop offset="0.000" stop-color="#ff0034"/><stop offset="0.167" stop-color="#ff1344"/><stop offset="0.333" stop-color="#ff5a61"/><stop offset="0.500" stop-color="#e5ff89"/><stop offset="0.667" stop-color="#49ff54"/><stop offset="0.833" stop-color="#0fff39"/><stop offset="1.000" stop-color="#00ff2a"/></linearGradient>
<linearGradient id="k34" gradientUnits="userSpaceOnUse" x1="231.60" y1="0" x2="271.62" y2="0"><stop offset="0.000" stop-color="#ff0029"/><stop offset="0.167" stop-color="#ff1335"/><stop offset="0.333" stop-color="#ff5a4b"/><stop offset="0.500" stop-color="#e4ff6a"/><stop offset="0.667" stop-color="#48ff41"/><stop offset="0.833" stop-color="#0fff2c"/><stop offset="1.000" stop-color="#00ff20"/></linearGradient>
<linearGradient id="k35" gradientUnits="userSpaceOnUse" x1="230.60" y1="0" x2="271.67" y2="0"><stop offset="0.000" stop-color="#ff001f"/><stop offset="0.167" stop-color="#ff1329"/><stop offset="0.333" stop-color="#ff5b39"/><stop offset="0.500" stop-color="#e4ff50"/><stop offset="0.667" stop-color="#48ff31"/><stop offset="0.833" stop-color="#0fff21"/><stop offset="1.000" stop-color="#00ff18"/></linearGradient>
<linearGradient id="k36" gradientUnits="userSpaceOnUse" x1="229.60" y1="0" x2="271.70" y2="0"><stop offset="0.000" stop-color="#ff0017"/><stop offset="0.167" stop-color="#ff141e"/><stop offset="0.333" stop-color="#ff5b2a"/><stop offset="0.500" stop-color="#e3ff3b"/><stop offset="0.667" stop-color="#48ff24"/><stop offset="0.833" stop-color="#0fff18"/><stop offset="1.000" stop-color="#00ff12"/></linearGradient>
<linearGradient id="k37" gradientUnits="userSpaceOnUse" x1="228.60" y1="0" x2="271.74" y2="0"><stop offset="0.000" stop-color="#ff0010"/><stop offset="0.167" stop-color="#ff1415"/><stop offset="0.333" stop-color="#ff5b1d"/><stop offset="0.500" stop-color="#e2ff29"/><stop offset="0.667" stop-color="#48ff19"/><stop offset="0.833" stop-color="#0fff11"/><stop offset="1.000" stop-color="#00ff0c"/></linearGradient>
<linearGradient id="k38" gradientUnits="userSpaceOnUse" x1="227.60" y1="0" x2="271.76" y2="0"><stop offset="0.000" stop-color="#ff000a"/><stop offset="0.167" stop-color="#ff140d"/><stop offset="0.333" stop-color="#ff5c13"/><stop offset="0.500" stop-color="#e2ff1a"/><stop offset="0.667" stop-color="#48ff10"/><stop offset="0.833" stop-color="#0fff0b"/><stop offset="1.000" stop-color="#00ff08"/></linearGradient>
<linearGradient id="k39" gradientUnits="userSpaceOnUse" x1="226.60" y1="0" x2="271.78" y2="0"><stop offset="0.000" stop-color="#ff0006"/><stop offset="0.167" stop-color="#ff1407"/><stop offset="0.333" stop-color="#ff5c0a"/><stop offset="0.500" stop-color="#e1ff0f"/><stop offset="0.667" stop-color="#48ff09"/><stop offset="0.833" stop-color="#0fff06"/><stop offset="1.000" stop-color="#00ff04"/></linearGradient>
<linearGradient id="k40" gradientUnits="userSpaceOnUse" x1="225.60" y1="0" x2="271.80" y2="0"><stop offset="0.000" stop-color="#ff0002"/><stop offset="0.167" stop-color="#ff1403"/><stop offset="0.333" stop-color="#ff5c05"/><stop offset="0.500" stop-color="#e1ff06"/><stop offset="0.667" stop-color="#48ff04"/><stop offset="0.833" stop-color="#0fff02"/><stop offset="1.000" stop-color="#00ff02"/></linearGradient>
<linearGradient id="k41" gradientUnits="userSpaceOnUse" x1="224.60" y1="0" x2="271.81" y2="0"><stop offset="0.000" stop-color="#ff0000"/><stop offset="0.167" stop-color="#ff1400"/><stop offset="0.333" stop-color="#ff5d01"/><stop offset="0.500" stop-color="#e0ff01"/><stop offset="0.667" stop-color="#48ff01"/><stop offset="0.833" stop-color="#0fff00"/><stop offset="1.000" stop-color="#00ff00"/></linearGradient>
<linearGradient id="k42" gradientUnits="userSpaceOnUse" x1="223.60" y1="0" x2="271.81" y2="0"><stop offset="0.000" stop-color="#ff0000"/><stop offset="0.167" stop-color="#ff1300"/><stop offset="0.333" stop-color="#ff5b00"/><stop offset="0.500" stop-color="#e3ff00"/><stop offset="0.667" stop-color="#48ff00"/><stop offset="0.833" stop-color="#0fff00"/><stop offset="1.000" stop-color="#00ff00"/></linearGradient>
<clipPath id="keyclip"><path d="M223.8,72.3 L266.2,29.9 A163.9,163.9 0 0 1 271.8,72.3 Z"/></clipPath>
</defs>
<g clip-path="url(#keyclip)">
<rect x="264.60" y="30.00" width="2.79" height="1.3" fill="url(#k0)"/>
<rect x="263.60" y="31.00" width="4.05" height="1.3" fill="url(#k1)"/>
<rect x="262.60" y="32.00" width="5.30" height="1.3" fill="url(#k2)"/>
<rect x="261.60" y="33.00" width="6.55" height="1.3" fill="url(#k3)"/>
<rect x="260.60" y="34.00" width="7.79" height="1.3" fill="url(#k4)"/>
<rect x="259.60" y="35.00" width="9.02" height="1.3" fill="url(#k5)"/>
<rect x="258.60" y="36.00" width="10.25" height="1.3" fill="url(#k6)"/>
<rect x="257.60" y="37.00" width="11.47" height="1.3" fill="url(#k7)"/>
<rect x="256.60" y="38.00" width="12.68" height="1.3" fill="url(#k8)"/>
<rect x="255.60" y="39.00" width="13.89" height="1.3" fill="url(#k9)"/>
<rect x="254.60" y="40.00" width="15.09" height="1.3" fill="url(#k10)"/>
<rect x="253.60" y="41.00" width="16.29" height="1.3" fill="url(#k11)"/>
<rect x="252.60" y="42.00" width="17.48" height="1.3" fill="url(#k12)"/>
<rect x="251.60" y="43.00" width="18.66" height="1.3" fill="url(#k13)"/>
<rect x="250.60" y="44.00" width="19.83" height="1.3" fill="url(#k14)"/>
<rect x="249.60" y="45.00" width="21.00" height="1.3" fill="url(#k15)"/>
<rect x="248.60" y="46.00" width="22.16" height="1.3" fill="url(#k16)"/>
<rect x="247.60" y="47.00" width="23.32" height="1.3" fill="url(#k17)"/>
<rect x="246.60" y="48.00" width="24.47" height="1.3" fill="url(#k18)"/>
<rect x="245.60" y="49.00" width="25.61" height="1.3" fill="url(#k19)"/>
<rect x="244.60" y="50.00" width="26.75" height="1.3" fill="url(#k20)"/>
<rect x="243.60" y="51.00" width="27.88" height="1.3" fill="url(#k21)"/>
<rect x="242.60" y="52.00" width="29.01" height="1.3" fill="url(#k22)"/>
<rect x="241.60" y="53.00" width="30.13" height="1.3" fill="url(#k23)"/>
<rect x="240.60" y="54.00" width="31.24" height="1.3" fill="url(#k24)"/>
<rect x="239.60" y="55.00" width="32.34" height="1.3" fill="url(#k25)"/>
<rect x="238.60" y="56.00" width="33.44" height="1.3" fill="url(#k26)"/>
<rect x="237.60" y="57.00" width="34.54" height="1.3" fill="url(#k27)"/>
<rect x="236.60" y="58.00" width="35.63" height="1.3" fill="url(#k28)"/>
<rect x="235.60" y="59.00" width="36.71" height="1.3" fill="url(#k29)"/>
<rect x="234.60" y="60.00" width="37.78" height="1.3" fill="url(#k30)"/>
<rect x="233.60" y="61.00" width="38.85" height="1.3" fill="url(#k31)"/>
<rect x="232.60" y="62.00" width="39.91" height="1.3" fill="url(#k32)"/>
<rect x="231.60" y="63.00" width="40.97" height="1.3" fill="url(#k33)"/>
<rect x="230.60" y="64.00" width="42.02" height="1.3" fill="url(#k34)"/>
<rect x="229.60" y="65.00" width="43.07" height="1.3" fill="url(#k35)"/>
<rect x="228.60" y="66.00" width="44.10" height="1.3" fill="url(#k36)"/>
<rect x="227.60" y="67.00" width="45.14" height="1.3" fill="url(#k37)"/>
<rect x="226.60" y="68.00" width="46.16" height="1.3" fill="url(#k38)"/>
<rect x="225.60" y="69.00" width="47.18" height="1.3" fill="url(#k39)"/>
<rect x="224.60" y="70.00" width="48.20" height="1.3" fill="url(#k40)"/>
<rect x="223.60" y="71.00" width="49.21" height="1.3" fill="url(#k41)"/>
<rect x="222.60" y="72.00" width="50.21" height="1.3" fill="url(#k42)"/>
</g>
<text x="265.8" y="28.6" font-size="5.6" font-weight="bold" text-anchor="middle" fill="#222" >&lt;111&gt;</text>
<text x="224.8" y="78" font-size="5.6" font-weight="bold" text-anchor="middle" fill="#222" >&lt;001&gt;</text>
<text x="269" y="78" font-size="5.6" font-weight="bold" text-anchor="middle" fill="#222" >&lt;101&gt;</text>
<path d="M27.8,284.6 V93.3 H281.2" fill="none" stroke="#5a5a5a" stroke-width="0.9"/>
<path d="M281.2,93.3 V284.6 H27.8" fill="none" stroke="#8c8c8c" stroke-width="0.9"/>
<path d="M30.70,93.3 v-2.0 M30.70,284.6 v2.0 M40.91,93.3 v-1.1 M40.91,284.6 v1.1 M51.11,93.3 v-2.0 M51.11,284.6 v2.0 M61.31,93.3 v-1.1 M61.31,284.6 v1.1 M71.52,93.3 v-2.0 M71.52,284.6 v2.0 M81.72,93.3 v-1.1 M81.72,284.6 v1.1 M91.93,93.3 v-2.0 M91.93,284.6 v2.0 M102.14,93.3 v-1.1 M102.14,284.6 v1.1 M112.34,93.3 v-2.0 M112.34,284.6 v2.0 M122.55,93.3 v-1.1 M122.55,284.6 v1.1 M132.75,93.3 v-2.0 M132.75,284.6 v2.0 M142.95,93.3 v-1.1 M142.95,284.6 v1.1 M153.16,93.3 v-2.0 M153.16,284.6 v2.0 M163.36,93.3 v-1.1 M163.36,284.6 v1.1 M173.57,93.3 v-2.0 M173.57,284.6 v2.0 M183.77,93.3 v-1.1 M183.77,284.6 v1.1 M193.98,93.3 v-2.0 M193.98,284.6 v2.0 M204.19,93.3 v-1.1 M204.19,284.6 v1.1 M214.39,93.3 v-2.0 M214.39,284.6 v2.0 M224.59,93.3 v-1.1 M224.59,284.6 v1.1 M234.80,93.3 v-2.0 M234.80,284.6 v2.0 M245.00,93.3 v-1.1 M245.00,284.6 v1.1 M255.21,93.3 v-2.0 M255.21,284.6 v2.0 M265.42,93.3 v-1.1 M265.42,284.6 v1.1 M275.62,93.3 v-2.0 M275.62,284.6 v2.0 M27.8,96.60 h-2.8 M281.2,96.60 h2.8 M27.8,106.80 h-1.4 M281.2,106.80 h1.4 M27.8,117.01 h-2.8 M281.2,117.01 h2.8 M27.8,127.22 h-1.4 M281.2,127.22 h1.4 M27.8,137.42 h-2.8 M281.2,137.42 h2.8 M27.8,147.62 h-1.4 M281.2,147.62 h1.4 M27.8,157.83 h-2.8 M281.2,157.83 h2.8 M27.8,168.03 h-1.4 M281.2,168.03 h1.4 M27.8,178.24 h-2.8 M281.2,178.24 h2.8 M27.8,188.44 h-1.4 M281.2,188.44 h1.4 M27.8,198.65 h-2.8 M281.2,198.65 h2.8 M27.8,208.85 h-1.4 M281.2,208.85 h1.4 M27.8,219.06 h-2.8 M281.2,219.06 h2.8 M27.8,229.26 h-1.4 M281.2,229.26 h1.4 M27.8,239.47 h-2.8 M281.2,239.47 h2.8 M27.8,249.67 h-1.4 M281.2,249.67 h1.4 M27.8,259.88 h-2.8 M281.2,259.88 h2.8 M27.8,270.09 h-1.4 M281.2,270.09 h1.4 M27.8,280.29 h-2.8 M281.2,280.29 h2.8" stroke="#333" stroke-width="0.7" fill="none"/>
<text x="30.7" y="88.3" font-size="5.9" font-weight="bold" text-anchor="middle" fill="#222" >0</text>
<text x="30.7" y="293.6" font-size="5.9" font-weight="bold" text-anchor="middle" fill="#222" >0</text>
<text x="51.1" y="88.3" font-size="5.9" font-weight="bold" text-anchor="middle" fill="#222" >100</text>
<text x="51.1" y="293.6" font-size="5.9" font-weight="bold" text-anchor="middle" fill="#222" >100</text>
<text x="71.5" y="88.3" font-size="5.9" font-weight="bold" text-anchor="middle" fill="#222" >200</text>
<text x="71.5" y="293.6" font-size="5.9" font-weight="bold" text-anchor="middle" fill="#222" >200</text>
<text x="91.9" y="88.3" font-size="5.9" font-weight="bold" text-anchor="middle" fill="#222" >300</text>
<text x="91.9" y="293.6" font-size="5.9" font-weight="bold" text-anchor="middle" fill="#222" >300</text>
<text x="112.3" y="88.3" font-size="5.9" font-weight="bold" text-anchor="middle" fill="#222" >400</text>
<text x="112.3" y="293.6" font-size="5.9" font-weight="bold" text-anchor="middle" fill="#222" >400</text>
<text x="132.8" y="88.3" font-size="5.9" font-weight="bold" text-anchor="middle" fill="#222" >500</text>
<text x="132.8" y="293.6" font-size="5.9" font-weight="bold" text-anchor="middle" fill="#222" >500</text>
<text x="153.2" y="88.3" font-size="5.9" font-weight="bold" text-anchor="middle" fill="#222" >600</text>
<text x="153.2" y="293.6" font-size="5.9" font-weight="bold" text-anchor="middle" fill="#222" >600</text>
<text x="173.6" y="88.3" font-size="5.9" font-weight="bold" text-anchor="middle" fill="#222" >700</text>
<text x="173.6" y="293.6" font-size="5.9" font-weight="bold" text-anchor="middle" fill="#222" >700</text>
<text x="194.0" y="88.3" font-size="5.9" font-weight="bold" text-anchor="middle" fill="#222" >800</text>
<text x="194.0" y="293.6" font-size="5.9" font-weight="bold" text-anchor="middle" fill="#222" >800</text>
<text x="214.4" y="88.3" font-size="5.9" font-weight="bold" text-anchor="middle" fill="#222" >900</text>
<text x="214.4" y="293.6" font-size="5.9" font-weight="bold" text-anchor="middle" fill="#222" >900</text>
<text x="234.8" y="88.3" font-size="5.9" font-weight="bold" text-anchor="middle" fill="#222" >1000</text>
<text x="234.8" y="293.6" font-size="5.9" font-weight="bold" text-anchor="middle" fill="#222" >1000</text>
<text x="255.2" y="88.3" font-size="5.9" font-weight="bold" text-anchor="middle" fill="#222" >1100</text>
<text x="255.2" y="293.6" font-size="5.9" font-weight="bold" text-anchor="middle" fill="#222" >1100</text>
<text x="275.6" y="88.3" font-size="5.9" font-weight="bold" text-anchor="middle" fill="#222" >1200</text>
<text x="275.6" y="293.6" font-size="5.9" font-weight="bold" text-anchor="middle" fill="#222" >1200</text>
<text x="39.3" y="88.3" font-size="5.9" font-weight="bold" text-anchor="middle" fill="#222" >µm</text>
<text x="39.3" y="293.6" font-size="5.9" font-weight="bold" text-anchor="middle" fill="#222" >µm</text>
<text x="23.2" y="98.5" font-size="5.9" font-weight="bold" text-anchor="end" fill="#222" >0</text>
<text x="285.8" y="98.5" font-size="5.9" font-weight="bold" text-anchor="start" fill="#222" >0</text>
<text x="23.2" y="118.9" font-size="5.9" font-weight="bold" text-anchor="end" fill="#222" >100</text>
<text x="285.8" y="118.9" font-size="5.9" font-weight="bold" text-anchor="start" fill="#222" >100</text>
<text x="23.2" y="139.3" font-size="5.9" font-weight="bold" text-anchor="end" fill="#222" >200</text>
<text x="285.8" y="139.3" font-size="5.9" font-weight="bold" text-anchor="start" fill="#222" >200</text>
<text x="23.2" y="159.7" font-size="5.9" font-weight="bold" text-anchor="end" fill="#222" >300</text>
<text x="285.8" y="159.7" font-size="5.9" font-weight="bold" text-anchor="start" fill="#222" >300</text>
<text x="23.2" y="180.1" font-size="5.9" font-weight="bold" text-anchor="end" fill="#222" >400</text>
<text x="285.8" y="180.1" font-size="5.9" font-weight="bold" text-anchor="start" fill="#222" >400</text>
<text x="23.2" y="200.5" font-size="5.9" font-weight="bold" text-anchor="end" fill="#222" >500</text>
<text x="285.8" y="200.5" font-size="5.9" font-weight="bold" text-anchor="start" fill="#222" >500</text>
<text x="23.2" y="221.0" font-size="5.9" font-weight="bold" text-anchor="end" fill="#222" >600</text>
<text x="285.8" y="221.0" font-size="5.9" font-weight="bold" text-anchor="start" fill="#222" >600</text>
<text x="23.2" y="241.4" font-size="5.9" font-weight="bold" text-anchor="end" fill="#222" >700</text>
<text x="285.8" y="241.4" font-size="5.9" font-weight="bold" text-anchor="start" fill="#222" >700</text>
<text x="23.2" y="261.8" font-size="5.9" font-weight="bold" text-anchor="end" fill="#222" >800</text>
<text x="285.8" y="261.8" font-size="5.9" font-weight="bold" text-anchor="start" fill="#222" >800</text>
<text x="23.2" y="282.2" font-size="5.9" font-weight="bold" text-anchor="end" fill="#222" >900</text>
<text x="285.8" y="282.2" font-size="5.9" font-weight="bold" text-anchor="start" fill="#222" >900</text>
<g fill="#000" stroke="none">
<rect x="42.9" y="224" width="2.0" height="42"/>
<polygon points="43.9,217.2 47.4,225.2 40.4,225.2"/>
<rect x="46" y="268.0" width="43" height="2.0"/>
<polygon points="95.9,269 88.4,272.5 88.4,265.5"/>
<circle cx="43.9" cy="269" r="5.2"/><circle cx="43.9" cy="269" r="3.5" fill="#fff"/><circle cx="43.9" cy="269" r="2.0"/>
</g>
<text x="57.9" y="227" font-size="13" font-weight="bold" text-anchor="middle" fill="#000" >Y</text>
<text x="92.1" y="262.4" font-size="13" font-weight="bold" text-anchor="middle" fill="#000" >X</text>
<defs>
<radialGradient id="b_gray"><stop offset="0" stop-color="#4a4e56" stop-opacity="0.9"/><stop offset="0.5" stop-color="#6a6e76" stop-opacity="0.65"/><stop offset="1" stop-color="#b0b4b8" stop-opacity="0"/></radialGradient>
<radialGradient id="b_dgray"><stop offset="0" stop-color="#2c3038" stop-opacity="0.95"/><stop offset="0.5" stop-color="#4c5058" stop-opacity="0.8"/><stop offset="0.8" stop-color="#7c8088" stop-opacity="0.4"/><stop offset="1" stop-color="#b0b4b8" stop-opacity="0"/></radialGradient>
<radialGradient id="b_lgray"><stop offset="0" stop-color="#8a8e94" stop-opacity="0.8"/><stop offset="0.5" stop-color="#a0a4a8" stop-opacity="0.55"/><stop offset="1" stop-color="#d0d4d8" stop-opacity="0"/></radialGradient>
<radialGradient id="b_halo"><stop offset="0" stop-color="#14182c" stop-opacity="0.95"/><stop offset="0.55" stop-color="#2c303c" stop-opacity="0.8"/><stop offset="0.78" stop-color="#5c6068" stop-opacity="0.5"/><stop offset="1" stop-color="#a0a4a8" stop-opacity="0"/></radialGradient>
<radialGradient id="b_navy"><stop offset="0" stop-color="#0a1460" stop-opacity="1"/><stop offset="0.35" stop-color="#0a1038" stop-opacity="0.95"/><stop offset="0.65" stop-color="#4a4e58" stop-opacity="0.6"/><stop offset="1" stop-color="#a0a4a8" stop-opacity="0"/></radialGradient>
<radialGradient id="b_blue"><stop offset="0.0" stop-color="#0038ff" stop-opacity="1"/><stop offset="0.361" stop-color="#0018d0" stop-opacity="1"/><stop offset="0.574" stop-color="#081070" stop-opacity="1"/><stop offset="0.735" stop-color="#1a1e38" stop-opacity="0.9"/><stop offset="0.853" stop-color="#60646c" stop-opacity="0.5"/><stop offset="1.0" stop-color="#a0a4a8" stop-opacity="0"/></radialGradient>
<radialGradient id="b_bluep"><stop offset="0.0" stop-color="#0080ff" stop-opacity="1"/><stop offset="0.276" stop-color="#0040ff" stop-opacity="1"/><stop offset="0.48" stop-color="#0018d0" stop-opacity="1"/><stop offset="0.647" stop-color="#081070" stop-opacity="1"/><stop offset="0.769" stop-color="#1a1e38" stop-opacity="0.9"/><stop offset="0.878" stop-color="#60646c" stop-opacity="0.5"/><stop offset="1.0" stop-color="#a0a4a8" stop-opacity="0"/></radialGradient>
<radialGradient id="b_cyan"><stop offset="0.0" stop-color="#20f0ff" stop-opacity="1"/><stop offset="0.219" stop-color="#00b0ff" stop-opacity="1"/><stop offset="0.402" stop-color="#0048ff" stop-opacity="1"/><stop offset="0.574" stop-color="#0018c8" stop-opacity="1"/><stop offset="0.7" stop-color="#081068" stop-opacity="1"/><stop offset="0.803" stop-color="#1a1e38" stop-opacity="0.9"/><stop offset="0.895" stop-color="#60646c" stop-opacity="0.5"/><stop offset="1.0" stop-color="#a0a4a8" stop-opacity="0"/></radialGradient>
<radialGradient id="b_green"><stop offset="0.0" stop-color="#40ff60" stop-opacity="1"/><stop offset="0.183" stop-color="#20f0c0" stop-opacity="1"/><stop offset="0.319" stop-color="#00b0ff" stop-opacity="1"/><stop offset="0.461" stop-color="#0048ff" stop-opacity="1"/><stop offset="0.611" stop-color="#0018c8" stop-opacity="1"/><stop offset="0.726" stop-color="#081068" stop-opacity="1"/><stop offset="0.82" stop-color="#1a1e38" stop-opacity="0.9"/><stop offset="0.903" stop-color="#60646c" stop-opacity="0.5"/><stop offset="1.0" stop-color="#a0a4a8" stop-opacity="0"/></radialGradient>
<radialGradient id="b_yellow"><stop offset="0.0" stop-color="#ffe800" stop-opacity="1"/><stop offset="0.183" stop-color="#a0ff20" stop-opacity="1"/><stop offset="0.298" stop-color="#20f080" stop-opacity="1"/><stop offset="0.402" stop-color="#00b0ff" stop-opacity="1"/><stop offset="0.519" stop-color="#0048ff" stop-opacity="1"/><stop offset="0.647" stop-color="#0018c8" stop-opacity="1"/><stop offset="0.752" stop-color="#081068" stop-opacity="1"/><stop offset="0.837" stop-color="#1a1e38" stop-opacity="0.9"/><stop offset="0.919" stop-color="#60646c" stop-opacity="0.5"/><stop offset="1.0" stop-color="#a0a4a8" stop-opacity="0"/></radialGradient>
<radialGradient id="b_orange"><stop offset="0.0" stop-color="#ff9000" stop-opacity="1"/><stop offset="0.183" stop-color="#ffe800" stop-opacity="1"/><stop offset="0.276" stop-color="#a0ff20" stop-opacity="1"/><stop offset="0.361" stop-color="#20f080" stop-opacity="1"/><stop offset="0.451" stop-color="#00b0ff" stop-opacity="1"/><stop offset="0.556" stop-color="#0048ff" stop-opacity="1"/><stop offset="0.665" stop-color="#0018c8" stop-opacity="1"/><stop offset="0.769" stop-color="#081068" stop-opacity="1"/><stop offset="0.853" stop-color="#1a1e38" stop-opacity="0.9"/><stop offset="0.927" stop-color="#60646c" stop-opacity="0.5"/><stop offset="1.0" stop-color="#a0a4a8" stop-opacity="0"/></radialGradient>
<radialGradient id="b_red"><stop offset="0.0" stop-color="#e80000" stop-opacity="1"/><stop offset="0.158" stop-color="#ff3000" stop-opacity="1"/><stop offset="0.242" stop-color="#ffa000" stop-opacity="1"/><stop offset="0.309" stop-color="#ffe800" stop-opacity="1"/><stop offset="0.371" stop-color="#80ff30" stop-opacity="1"/><stop offset="0.432" stop-color="#20f0a0" stop-opacity="1"/><stop offset="0.5" stop-color="#00b0ff" stop-opacity="1"/><stop offset="0.593" stop-color="#0048ff" stop-opacity="1"/><stop offset="0.691" stop-color="#0018c8" stop-opacity="1"/><stop offset="0.786" stop-color="#081068" stop-opacity="1"/><stop offset="0.862" stop-color="#1a1e38" stop-opacity="0.9"/><stop offset="0.935" stop-color="#60646c" stop-opacity="0.5"/><stop offset="1.0" stop-color="#a0a4a8" stop-opacity="0"/></radialGradient>
<linearGradient id="cbar" x1="0" y1="0" x2="0" y2="1"><stop offset="0" stop-color="#8a0000"/><stop offset="0.06" stop-color="#e00000"/><stop offset="0.16" stop-color="#ff3000"/><stop offset="0.26" stop-color="#ffb000"/><stop offset="0.33" stop-color="#e8f000"/><stop offset="0.42" stop-color="#40e840"/><stop offset="0.5" stop-color="#20d8c0"/><stop offset="0.57" stop-color="#10a0f0"/><stop offset="0.66" stop-color="#0040ff"/><stop offset="0.76" stop-color="#0020c8"/><stop offset="0.83" stop-color="#203070"/><stop offset="0.89" stop-color="#606870"/><stop offset="0.95" stop-color="#c0c4c8"/><stop offset="1" stop-color="#f4f4f4"/></linearGradient>
<filter id="pfblur" x="-10%" y="-10%" width="120%" height="120%"><feGaussianBlur stdDeviation="0.35"/></filter>
</defs>
<clipPath id="pfc1"><circle cx="355.3" cy="86.9" r="37.7"/></clipPath>
<circle cx="355.3" cy="86.9" r="37.7" fill="#fff"/>
<g clip-path="url(#pfc1)">
<g fill="none" stroke="#c4c4c4" stroke-width="0.3"><circle cx="355.3" cy="86.9" r="3.30"/><circle cx="355.3" cy="86.9" r="6.65"/><circle cx="355.3" cy="86.9" r="10.10"/><circle cx="355.3" cy="86.9" r="13.72"/><circle cx="355.3" cy="86.9" r="17.58"/><circle cx="355.3" cy="86.9" r="21.77"/><circle cx="355.3" cy="86.9" r="26.40"/><circle cx="355.3" cy="86.9" r="31.63"/><line x1="355.30" y1="86.90" x2="393.00" y2="86.90"/><line x1="358.55" y1="87.47" x2="392.43" y2="93.45"/><line x1="358.40" y1="88.03" x2="390.73" y2="99.79"/><line x1="355.30" y1="86.90" x2="387.95" y2="105.75"/><line x1="357.83" y1="89.02" x2="384.18" y2="111.13"/><line x1="357.42" y1="89.43" x2="379.53" y2="115.78"/><line x1="355.30" y1="86.90" x2="374.15" y2="119.55"/><line x1="356.43" y1="90.00" x2="368.19" y2="122.33"/><line x1="355.87" y1="90.15" x2="361.85" y2="124.03"/><line x1="355.30" y1="86.90" x2="355.30" y2="124.60"/><line x1="354.73" y1="90.15" x2="348.75" y2="124.03"/><line x1="354.17" y1="90.00" x2="342.41" y2="122.33"/><line x1="355.30" y1="86.90" x2="336.45" y2="119.55"/><line x1="353.18" y1="89.43" x2="331.07" y2="115.78"/><line x1="352.77" y1="89.02" x2="326.42" y2="111.13"/><line x1="355.30" y1="86.90" x2="322.65" y2="105.75"/><line x1="352.20" y1="88.03" x2="319.87" y2="99.79"/><line x1="352.05" y1="87.47" x2="318.17" y2="93.45"/><line x1="355.30" y1="86.90" x2="317.60" y2="86.90"/><line x1="352.05" y1="86.33" x2="318.17" y2="80.35"/><line x1="352.20" y1="85.77" x2="319.87" y2="74.01"/><line x1="355.30" y1="86.90" x2="322.65" y2="68.05"/><line x1="352.77" y1="84.78" x2="326.42" y2="62.67"/><line x1="353.18" y1="84.37" x2="331.07" y2="58.02"/><line x1="355.30" y1="86.90" x2="336.45" y2="54.25"/><line x1="354.17" y1="83.80" x2="342.41" y2="51.47"/><line x1="354.73" y1="83.65" x2="348.75" y2="49.77"/><line x1="355.30" y1="86.90" x2="355.30" y2="49.20"/><line x1="355.87" y1="83.65" x2="361.85" y2="49.77"/><line x1="356.43" y1="83.80" x2="368.19" y2="51.47"/><line x1="355.30" y1="86.90" x2="374.15" y2="54.25"/><line x1="357.42" y1="84.37" x2="379.53" y2="58.02"/><line x1="357.83" y1="84.78" x2="384.18" y2="62.67"/><line x1="355.30" y1="86.90" x2="387.95" y2="68.05"/><line x1="358.40" y1="85.77" x2="390.73" y2="74.01"/><line x1="358.55" y1="86.33" x2="392.43" y2="80.35"/></g>
<g filter="url(#pfblur)">
<ellipse cx="334" cy="52" rx="6.80" ry="5.10" fill="url(#b_lgray)"/>
<ellipse cx="349" cy="70" rx="6.80" ry="8.50" fill="url(#b_lgray)"/>
<ellipse cx="385" cy="70" rx="6.80" ry="6.80" fill="url(#b_lgray)"/>
<ellipse cx="340" cy="100" rx="6.80" ry="5.10" fill="url(#b_lgray)"/>
<ellipse cx="370" cy="103" rx="6.80" ry="6.80" fill="url(#b_lgray)"/>
<ellipse cx="350" cy="112" rx="5.10" ry="6.80" fill="url(#b_lgray)"/>
<ellipse cx="374" cy="65" rx="13.60" ry="10.20" fill="url(#b_gray)"/>
<ellipse cx="383" cy="69" rx="5.10" ry="8.50" fill="url(#b_gray)"/>
<ellipse cx="372" cy="56" rx="10.20" ry="5.10" fill="url(#b_gray)" transform="rotate(20 372 56)"/>
<ellipse cx="322" cy="80" rx="5.10" ry="8.50" fill="url(#b_gray)"/>
<ellipse cx="388" cy="98" rx="5.10" ry="8.50" fill="url(#b_gray)"/>
<ellipse cx="369" cy="118" rx="6.80" ry="6.80" fill="url(#b_gray)"/>
<ellipse cx="325" cy="100" rx="6.80" ry="6.80" fill="url(#b_gray)"/>
<ellipse cx="339.2" cy="56.7" rx="6.80" ry="5.95" fill="url(#b_dgray)"/>
<ellipse cx="357.5" cy="65" rx="4.25" ry="8.50" fill="url(#b_dgray)"/>
<ellipse cx="359.8" cy="52.1" rx="14.68" ry="6.85" fill="url(#b_halo)" transform="rotate(10 359.8 52.1)"/>
<ellipse cx="328.5" cy="62" rx="9.79" ry="12.72" fill="url(#b_halo)" transform="rotate(30 328.5 62)"/>
<ellipse cx="327" cy="73.5" rx="5.87" ry="8.81" fill="url(#b_halo)"/>
<ellipse cx="341.5" cy="74.3" rx="7.83" ry="4.89" fill="url(#b_halo)"/>
<ellipse cx="367.5" cy="53.6" rx="7.83" ry="4.89" fill="url(#b_halo)" transform="rotate(10 367.5 53.6)"/>
<ellipse cx="374.3" cy="65.1" rx="7.83" ry="5.87" fill="url(#b_halo)"/>
<ellipse cx="360.6" cy="76.5" rx="7.83" ry="7.83" fill="url(#b_halo)"/>
<ellipse cx="367" cy="73.3" rx="7.83" ry="4.89" fill="url(#b_halo)" transform="rotate(-30 367 73.3)"/>
<ellipse cx="388.4" cy="81.4" rx="7.83" ry="6.85" fill="url(#b_halo)" transform="rotate(20 388.4 81.4)"/>
<ellipse cx="381.5" cy="78.1" rx="7.83" ry="5.87" fill="url(#b_halo)" transform="rotate(20 381.5 78.1)"/>
<ellipse cx="350.2" cy="86" rx="11.75" ry="6.85" fill="url(#b_halo)" transform="rotate(-25 350.2 86)"/>
<ellipse cx="347.8" cy="93.5" rx="4.89" ry="8.81" fill="url(#b_halo)"/>
<ellipse cx="329.3" cy="89.3" rx="9.79" ry="8.81" fill="url(#b_halo)"/>
<ellipse cx="362.1" cy="86.5" rx="3.92" ry="3.92" fill="url(#b_halo)"/>
<ellipse cx="366.7" cy="92.7" rx="6.85" ry="6.85" fill="url(#b_halo)"/>
<ellipse cx="359.8" cy="108.7" rx="8.81" ry="8.81" fill="url(#b_halo)"/>
<ellipse cx="359.8" cy="119.4" rx="8.81" ry="8.81" fill="url(#b_halo)"/>
<ellipse cx="378.9" cy="110.3" rx="12.72" ry="12.72" fill="url(#b_halo)"/>
<ellipse cx="379.7" cy="99" rx="7.83" ry="14.68" fill="url(#b_halo)"/>
<ellipse cx="333.9" cy="108" rx="8.81" ry="8.81" fill="url(#b_halo)"/>
<ellipse cx="344.5" cy="119" rx="11.75" ry="5.87" fill="url(#b_halo)" transform="rotate(18 344.5 119)"/>
<ellipse cx="343" cy="118.5" rx="19.57" ry="8.81" fill="url(#b_halo)" transform="rotate(20 343 118.5)"/>
<ellipse cx="338" cy="114.5" rx="7.83" ry="7.83" fill="url(#b_halo)"/>
<ellipse cx="318.6" cy="92.7" rx="4.89" ry="7.83" fill="url(#b_halo)"/>
<ellipse cx="336.9" cy="93.5" rx="3.92" ry="3.92" fill="url(#b_halo)"/>
<ellipse cx="362.1" cy="86.5" rx="2.90" ry="2.90" fill="url(#b_navy)"/>
<ellipse cx="379.7" cy="99" rx="5.80" ry="10.88" fill="url(#b_navy)"/>
<ellipse cx="343" cy="118.5" rx="14.50" ry="6.52" fill="url(#b_navy)" transform="rotate(20 343 118.5)"/>
<ellipse cx="338" cy="114.5" rx="5.80" ry="5.80" fill="url(#b_navy)"/>
<ellipse cx="336.9" cy="93.5" rx="2.90" ry="2.90" fill="url(#b_navy)"/>
<ellipse cx="327" cy="73.5" rx="4.35" ry="6.52" fill="url(#b_blue)"/>
<ellipse cx="341.5" cy="74.3" rx="5.80" ry="3.62" fill="url(#b_blue)"/>
<ellipse cx="367.5" cy="53.6" rx="5.80" ry="3.62" fill="url(#b_blue)" transform="rotate(10 367.5 53.6)"/>
<ellipse cx="367" cy="73.3" rx="5.80" ry="3.62" fill="url(#b_blue)" transform="rotate(-30 367 73.3)"/>
<ellipse cx="381.5" cy="78.1" rx="5.80" ry="4.35" fill="url(#b_blue)" transform="rotate(20 381.5 78.1)"/>
<ellipse cx="347.8" cy="93.5" rx="3.62" ry="6.52" fill="url(#b_blue)"/>
<ellipse cx="333.9" cy="108" rx="6.52" ry="6.52" fill="url(#b_blue)"/>
<ellipse cx="344.5" cy="119" rx="8.70" ry="4.35" fill="url(#b_blue)" transform="rotate(18 344.5 119)"/>
<ellipse cx="318.6" cy="92.7" rx="3.62" ry="5.80" fill="url(#b_blue)"/>
<ellipse cx="374.3" cy="65.1" rx="5.80" ry="4.35" fill="url(#b_bluep)"/>
<ellipse cx="359.8" cy="52.1" rx="10.88" ry="5.08" fill="url(#b_cyan)" transform="rotate(10 359.8 52.1)"/>
<ellipse cx="328.5" cy="62" rx="7.25" ry="9.42" fill="url(#b_cyan)" transform="rotate(30 328.5 62)"/>
<ellipse cx="366.7" cy="92.7" rx="5.08" ry="5.08" fill="url(#b_cyan)"/>
<ellipse cx="378.9" cy="110.3" rx="9.42" ry="9.42" fill="url(#b_green)"/>
<ellipse cx="388.4" cy="81.4" rx="5.80" ry="5.08" fill="url(#b_yellow)" transform="rotate(20 388.4 81.4)"/>
<ellipse cx="359.8" cy="119.4" rx="6.52" ry="6.52" fill="url(#b_orange)"/>
<ellipse cx="360.6" cy="76.5" rx="5.80" ry="5.80" fill="url(#b_red)"/>
<ellipse cx="350.2" cy="86" rx="8.70" ry="5.08" fill="url(#b_red)" transform="rotate(-25 350.2 86)"/>
<ellipse cx="329.3" cy="89.3" rx="7.25" ry="6.52" fill="url(#b_red)"/>
<ellipse cx="359.8" cy="108.7" rx="6.52" ry="6.52" fill="url(#b_red)"/>
</g></g>
<circle cx="355.3" cy="86.9" r="37.7" fill="none" stroke="#222" stroke-width="0.6"/>
<path d="M317.6,86.9 H395.5 M355.3,46.7 V124.60000000000001" stroke="#111" stroke-width="0.6" fill="none"/>
<text x="355.3" y="45.800000000000004" font-size="6.2" font-weight="normal" text-anchor="middle" fill="#222" >Y</text>
<text x="398.8" y="89.10000000000001" font-size="6.2" font-weight="normal" text-anchor="middle" fill="#222" >X</text>
<text x="309" y="53.800000000000004" font-size="9.5" font-weight="normal" text-anchor="start" fill="#111" >(100)</text>
<rect x="403.3" y="49.2" width="7.6" height="50.6" fill="url(#cbar)"/>
<text x="413.2" y="50.800000000000004" font-size="2.6" font-weight="bold" text-anchor="start" fill="#333" >3.00</text>
<text x="413.2" y="100.6" font-size="2.6" font-weight="bold" text-anchor="start" fill="#333" >0.70</text>
<text x="397.4" y="105.8" font-size="2.4" font-weight="bold" text-anchor="start" fill="#333" >max = 3.30</text>
<text x="397.4" y="109.0" font-size="2.4" font-weight="bold" text-anchor="start" fill="#333" >min = 0.00</text>
<text x="397.4" y="112.1" font-size="2.4" font-weight="bold" text-anchor="start" fill="#333" >Lmax = 22</text>
<text x="397.4" y="115.3" font-size="2.4" font-weight="bold" text-anchor="start" fill="#333" >Stereographic</text>
<clipPath id="pfc2"><circle cx="355.3" cy="171.8" r="37.7"/></clipPath>
<circle cx="355.3" cy="171.8" r="37.7" fill="#fff"/>
<g clip-path="url(#pfc2)">
<g fill="none" stroke="#c4c4c4" stroke-width="0.3"><circle cx="355.3" cy="171.8" r="3.30"/><circle cx="355.3" cy="171.8" r="6.65"/><circle cx="355.3" cy="171.8" r="10.10"/><circle cx="355.3" cy="171.8" r="13.72"/><circle cx="355.3" cy="171.8" r="17.58"/><circle cx="355.3" cy="171.8" r="21.77"/><circle cx="355.3" cy="171.8" r="26.40"/><circle cx="355.3" cy="171.8" r="31.63"/><line x1="355.30" y1="171.80" x2="393.00" y2="171.80"/><line x1="358.55" y1="172.37" x2="392.43" y2="178.35"/><line x1="358.40" y1="172.93" x2="390.73" y2="184.69"/><line x1="355.30" y1="171.80" x2="387.95" y2="190.65"/><line x1="357.83" y1="173.92" x2="384.18" y2="196.03"/><line x1="357.42" y1="174.33" x2="379.53" y2="200.68"/><line x1="355.30" y1="171.80" x2="374.15" y2="204.45"/><line x1="356.43" y1="174.90" x2="368.19" y2="207.23"/><line x1="355.87" y1="175.05" x2="361.85" y2="208.93"/><line x1="355.30" y1="171.80" x2="355.30" y2="209.50"/><line x1="354.73" y1="175.05" x2="348.75" y2="208.93"/><line x1="354.17" y1="174.90" x2="342.41" y2="207.23"/><line x1="355.30" y1="171.80" x2="336.45" y2="204.45"/><line x1="353.18" y1="174.33" x2="331.07" y2="200.68"/><line x1="352.77" y1="173.92" x2="326.42" y2="196.03"/><line x1="355.30" y1="171.80" x2="322.65" y2="190.65"/><line x1="352.20" y1="172.93" x2="319.87" y2="184.69"/><line x1="352.05" y1="172.37" x2="318.17" y2="178.35"/><line x1="355.30" y1="171.80" x2="317.60" y2="171.80"/><line x1="352.05" y1="171.23" x2="318.17" y2="165.25"/><line x1="352.20" y1="170.67" x2="319.87" y2="158.91"/><line x1="355.30" y1="171.80" x2="322.65" y2="152.95"/><line x1="352.77" y1="169.68" x2="326.42" y2="147.57"/><line x1="353.18" y1="169.27" x2="331.07" y2="142.92"/><line x1="355.30" y1="171.80" x2="336.45" y2="139.15"/><line x1="354.17" y1="168.70" x2="342.41" y2="136.37"/><line x1="354.73" y1="168.55" x2="348.75" y2="134.67"/><line x1="355.30" y1="171.80" x2="355.30" y2="134.10"/><line x1="355.87" y1="168.55" x2="361.85" y2="134.67"/><line x1="356.43" y1="168.70" x2="368.19" y2="136.37"/><line x1="355.30" y1="171.80" x2="374.15" y2="139.15"/><line x1="357.42" y1="169.27" x2="379.53" y2="142.92"/><line x1="357.83" y1="169.68" x2="384.18" y2="147.57"/><line x1="355.30" y1="171.80" x2="387.95" y2="152.95"/><line x1="358.40" y1="170.67" x2="390.73" y2="158.91"/><line x1="358.55" y1="171.23" x2="392.43" y2="165.25"/></g>
<g filter="url(#pfblur)">
<ellipse cx="323" cy="165" rx="5.10" ry="6.80" fill="url(#b_lgray)"/>
<ellipse cx="372" cy="182" rx="6.80" ry="6.80" fill="url(#b_lgray)"/>
<ellipse cx="345" cy="200" rx="6.80" ry="6.80" fill="url(#b_lgray)"/>
<ellipse cx="390" cy="165" rx="5.10" ry="8.50" fill="url(#b_lgray)"/>
<ellipse cx="322" cy="185" rx="5.10" ry="8.50" fill="url(#b_lgray)"/>
<ellipse cx="366" cy="148" rx="5.10" ry="6.80" fill="url(#b_lgray)"/>
<ellipse cx="375" cy="205" rx="6.80" ry="5.10" fill="url(#b_gray)"/>
<ellipse cx="360" cy="141" rx="6.80" ry="6.80" fill="url(#b_dgray)"/>
<ellipse cx="371" cy="151" rx="6.80" ry="8.50" fill="url(#b_dgray)"/>
<ellipse cx="334" cy="158" rx="6.80" ry="6.80" fill="url(#b_dgray)"/>
<ellipse cx="354.5" cy="144" rx="7.83" ry="8.81" fill="url(#b_halo)"/>
<ellipse cx="350.2" cy="154.7" rx="6.85" ry="7.83" fill="url(#b_halo)"/>
<ellipse cx="342.3" cy="140.9" rx="7.83" ry="5.87" fill="url(#b_halo)"/>
<ellipse cx="325.5" cy="150.1" rx="4.89" ry="6.85" fill="url(#b_halo)"/>
<ellipse cx="378.1" cy="144" rx="8.81" ry="6.85" fill="url(#b_halo)" transform="rotate(35 378.1 144)"/>
<ellipse cx="378.1" cy="160.8" rx="11.75" ry="8.81" fill="url(#b_halo)"/>
<ellipse cx="342.3" cy="159.3" rx="6.85" ry="7.83" fill="url(#b_halo)"/>
<ellipse cx="345.3" cy="166.1" rx="5.87" ry="4.89" fill="url(#b_halo)"/>
<ellipse cx="327" cy="168.6" rx="8.81" ry="7.83" fill="url(#b_halo)"/>
<ellipse cx="336.6" cy="172.6" rx="5.87" ry="7.83" fill="url(#b_halo)"/>
<ellipse cx="362.9" cy="160.8" rx="5.87" ry="7.83" fill="url(#b_halo)"/>
<ellipse cx="367.5" cy="168.4" rx="4.89" ry="4.89" fill="url(#b_halo)"/>
<ellipse cx="382.7" cy="174.5" rx="7.83" ry="9.79" fill="url(#b_halo)"/>
<ellipse cx="361.3" cy="176" rx="6.85" ry="7.83" fill="url(#b_halo)"/>
<ellipse cx="382" cy="191.4" rx="11.75" ry="11.75" fill="url(#b_halo)"/>
<ellipse cx="341.8" cy="189.1" rx="10.77" ry="8.81" fill="url(#b_halo)"/>
<ellipse cx="354.9" cy="186.4" rx="5.87" ry="5.87" fill="url(#b_halo)"/>
<ellipse cx="333.1" cy="199.8" rx="8.81" ry="8.81" fill="url(#b_halo)"/>
<ellipse cx="333.1" cy="181.5" rx="5.87" ry="7.83" fill="url(#b_halo)"/>
<ellipse cx="350.7" cy="174.6" rx="3.92" ry="3.92" fill="url(#b_halo)"/>
<ellipse cx="361.3" cy="183.8" rx="4.89" ry="4.89" fill="url(#b_halo)"/>
<ellipse cx="360.6" cy="192.2" rx="7.83" ry="5.87" fill="url(#b_halo)"/>
<ellipse cx="367.5" cy="199.1" rx="7.83" ry="7.83" fill="url(#b_halo)"/>
<ellipse cx="350.7" cy="208.2" rx="7.83" ry="5.87" fill="url(#b_halo)"/>
<ellipse cx="342.3" cy="140.9" rx="5.80" ry="4.35" fill="url(#b_navy)"/>
<ellipse cx="362.9" cy="160.8" rx="4.35" ry="5.80" fill="url(#b_navy)"/>
<ellipse cx="350.7" cy="174.6" rx="2.90" ry="2.90" fill="url(#b_navy)"/>
<ellipse cx="361.3" cy="183.8" rx="3.62" ry="3.62" fill="url(#b_navy)"/>
<ellipse cx="360.6" cy="192.2" rx="5.80" ry="4.35" fill="url(#b_navy)"/>
<ellipse cx="350.7" cy="208.2" rx="5.80" ry="4.35" fill="url(#b_navy)"/>
<ellipse cx="325.5" cy="150.1" rx="3.62" ry="5.08" fill="url(#b_blue)"/>
<ellipse cx="342.3" cy="159.3" rx="5.08" ry="5.80" fill="url(#b_blue)"/>
<ellipse cx="345.3" cy="166.1" rx="4.35" ry="3.62" fill="url(#b_blue)"/>
<ellipse cx="327" cy="168.6" rx="6.52" ry="5.80" fill="url(#b_blue)"/>
<ellipse cx="367.5" cy="168.4" rx="3.62" ry="3.62" fill="url(#b_blue)"/>
<ellipse cx="382.7" cy="174.5" rx="5.80" ry="7.25" fill="url(#b_blue)"/>
<ellipse cx="333.1" cy="181.5" rx="4.35" ry="5.80" fill="url(#b_blue)"/>
<ellipse cx="367.5" cy="199.1" rx="5.80" ry="5.80" fill="url(#b_blue)"/>
<ellipse cx="378.1" cy="144" rx="6.52" ry="5.08" fill="url(#b_bluep)" transform="rotate(35 378.1 144)"/>
<ellipse cx="354.5" cy="144" rx="5.80" ry="6.52" fill="url(#b_cyan)"/>
<ellipse cx="350.2" cy="154.7" rx="5.08" ry="5.80" fill="url(#b_cyan)"/>
<ellipse cx="378.1" cy="160.8" rx="8.70" ry="6.52" fill="url(#b_cyan)"/>
<ellipse cx="336.6" cy="172.6" rx="4.35" ry="5.80" fill="url(#b_cyan)"/>
<ellipse cx="361.3" cy="176" rx="5.08" ry="5.80" fill="url(#b_cyan)"/>
<ellipse cx="354.9" cy="186.4" rx="4.35" ry="4.35" fill="url(#b_cyan)"/>
<ellipse cx="333.1" cy="199.8" rx="6.52" ry="6.52" fill="url(#b_cyan)"/>
<ellipse cx="341.8" cy="189.1" rx="7.97" ry="6.52" fill="url(#b_green)"/>
<ellipse cx="382" cy="191.4" rx="8.70" ry="8.70" fill="url(#b_red)"/>
</g></g>
<circle cx="355.3" cy="171.8" r="37.7" fill="none" stroke="#222" stroke-width="0.6"/>
<path d="M317.6,171.8 H395.5 M355.3,131.60000000000002 V209.5" stroke="#111" stroke-width="0.6" fill="none"/>
<text x="355.3" y="130.70000000000002" font-size="6.2" font-weight="normal" text-anchor="middle" fill="#222" >Y</text>
<text x="398.8" y="174.0" font-size="6.2" font-weight="normal" text-anchor="middle" fill="#222" >X</text>
<text x="309" y="138.70000000000002" font-size="9.5" font-weight="normal" text-anchor="start" fill="#111" >(110)</text>
<rect x="403.3" y="134.2" width="7.6" height="50.6" fill="url(#cbar)"/>
<text x="413.2" y="135.79999999999998" font-size="2.6" font-weight="bold" text-anchor="start" fill="#333" >3.00</text>
<text x="413.2" y="185.6" font-size="2.6" font-weight="bold" text-anchor="start" fill="#333" >0.70</text>
<text x="397.4" y="190.8" font-size="2.4" font-weight="bold" text-anchor="start" fill="#333" >max = 3.17</text>
<text x="397.4" y="193.9" font-size="2.4" font-weight="bold" text-anchor="start" fill="#333" >min = 0.23</text>
<text x="397.4" y="197.1" font-size="2.4" font-weight="bold" text-anchor="start" fill="#333" >Lmax = 22</text>
<text x="397.4" y="200.2" font-size="2.4" font-weight="bold" text-anchor="start" fill="#333" >Stereographic</text>
<clipPath id="pfc3"><circle cx="355.3" cy="257.3" r="37.7"/></clipPath>
<circle cx="355.3" cy="257.3" r="37.7" fill="#fff"/>
<g clip-path="url(#pfc3)">
<g fill="none" stroke="#c4c4c4" stroke-width="0.3"><circle cx="355.3" cy="257.3" r="3.30"/><circle cx="355.3" cy="257.3" r="6.65"/><circle cx="355.3" cy="257.3" r="10.10"/><circle cx="355.3" cy="257.3" r="13.72"/><circle cx="355.3" cy="257.3" r="17.58"/><circle cx="355.3" cy="257.3" r="21.77"/><circle cx="355.3" cy="257.3" r="26.40"/><circle cx="355.3" cy="257.3" r="31.63"/><line x1="355.30" y1="257.30" x2="393.00" y2="257.30"/><line x1="358.55" y1="257.87" x2="392.43" y2="263.85"/><line x1="358.40" y1="258.43" x2="390.73" y2="270.19"/><line x1="355.30" y1="257.30" x2="387.95" y2="276.15"/><line x1="357.83" y1="259.42" x2="384.18" y2="281.53"/><line x1="357.42" y1="259.83" x2="379.53" y2="286.18"/><line x1="355.30" y1="257.30" x2="374.15" y2="289.95"/><line x1="356.43" y1="260.40" x2="368.19" y2="292.73"/><line x1="355.87" y1="260.55" x2="361.85" y2="294.43"/><line x1="355.30" y1="257.30" x2="355.30" y2="295.00"/><line x1="354.73" y1="260.55" x2="348.75" y2="294.43"/><line x1="354.17" y1="260.40" x2="342.41" y2="292.73"/><line x1="355.30" y1="257.30" x2="336.45" y2="289.95"/><line x1="353.18" y1="259.83" x2="331.07" y2="286.18"/><line x1="352.77" y1="259.42" x2="326.42" y2="281.53"/><line x1="355.30" y1="257.30" x2="322.65" y2="276.15"/><line x1="352.20" y1="258.43" x2="319.87" y2="270.19"/><line x1="352.05" y1="257.87" x2="318.17" y2="263.85"/><line x1="355.30" y1="257.30" x2="317.60" y2="257.30"/><line x1="352.05" y1="256.73" x2="318.17" y2="250.75"/><line x1="352.20" y1="256.17" x2="319.87" y2="244.41"/><line x1="355.30" y1="257.30" x2="322.65" y2="238.45"/><line x1="352.77" y1="255.18" x2="326.42" y2="233.07"/><line x1="353.18" y1="254.77" x2="331.07" y2="228.42"/><line x1="355.30" y1="257.30" x2="336.45" y2="224.65"/><line x1="354.17" y1="254.20" x2="342.41" y2="221.87"/><line x1="354.73" y1="254.05" x2="348.75" y2="220.17"/><line x1="355.30" y1="257.30" x2="355.30" y2="219.60"/><line x1="355.87" y1="254.05" x2="361.85" y2="220.17"/><line x1="356.43" y1="254.20" x2="368.19" y2="221.87"/><line x1="355.30" y1="257.30" x2="374.15" y2="224.65"/><line x1="357.42" y1="254.77" x2="379.53" y2="228.42"/><line x1="357.83" y1="255.18" x2="384.18" y2="233.07"/><line x1="355.30" y1="257.30" x2="387.95" y2="238.45"/><line x1="358.40" y1="256.17" x2="390.73" y2="244.41"/><line x1="358.55" y1="256.73" x2="392.43" y2="250.75"/></g>
<g filter="url(#pfblur)">
<ellipse cx="366" cy="232" rx="5.10" ry="6.80" fill="url(#b_lgray)"/>
<ellipse cx="345" cy="284" rx="6.80" ry="6.80" fill="url(#b_lgray)"/>
<ellipse cx="372" cy="278" rx="6.80" ry="6.80" fill="url(#b_lgray)"/>
<ellipse cx="323" cy="276" rx="5.10" ry="7.65" fill="url(#b_gray)"/>
<ellipse cx="322" cy="243" rx="5.95" ry="7.65" fill="url(#b_gray)"/>
<ellipse cx="387" cy="236" rx="5.10" ry="7.65" fill="url(#b_gray)"/>
<ellipse cx="376" cy="290" rx="6.80" ry="4.25" fill="url(#b_gray)"/>
<ellipse cx="330" cy="232" rx="8.50" ry="5.10" fill="url(#b_gray)" transform="rotate(-30 330 232)"/>
<ellipse cx="360" cy="229" rx="4.25" ry="11.90" fill="url(#b_dgray)"/>
<ellipse cx="388" cy="258" rx="5.95" ry="5.10" fill="url(#b_dgray)"/>
<ellipse cx="336.9" cy="239.7" rx="12.72" ry="8.81" fill="url(#b_halo)" transform="rotate(-45 336.9 239.7)"/>
<ellipse cx="341" cy="237" rx="23.49" ry="11.75" fill="url(#b_halo)" transform="rotate(-15 341 237)"/>
<ellipse cx="375.1" cy="227.5" rx="8.81" ry="7.83" fill="url(#b_halo)" transform="rotate(30 375.1 227.5)"/>
<ellipse cx="364.4" cy="240.4" rx="6.85" ry="5.87" fill="url(#b_halo)"/>
<ellipse cx="359.8" cy="246.5" rx="6.85" ry="4.89" fill="url(#b_halo)"/>
<ellipse cx="349.9" cy="248.1" rx="5.87" ry="4.89" fill="url(#b_halo)"/>
<ellipse cx="381.2" cy="245" rx="6.85" ry="11.75" fill="url(#b_halo)"/>
<ellipse cx="329.3" cy="253.8" rx="7.83" ry="5.87" fill="url(#b_halo)"/>
<ellipse cx="372.8" cy="259.6" rx="9.79" ry="3.92" fill="url(#b_halo)" transform="rotate(-10 372.8 259.6)"/>
<ellipse cx="367.8" cy="267.3" rx="7.83" ry="8.81" fill="url(#b_halo)"/>
<ellipse cx="348.4" cy="262.7" rx="8.81" ry="6.85" fill="url(#b_halo)" transform="rotate(-30 348.4 262.7)"/>
<ellipse cx="341.2" cy="271.9" rx="5.87" ry="5.87" fill="url(#b_halo)"/>
<ellipse cx="357.5" cy="271.9" rx="5.87" ry="6.85" fill="url(#b_halo)"/>
<ellipse cx="325.5" cy="265" rx="7.83" ry="11.75" fill="url(#b_halo)"/>
<ellipse cx="350.7" cy="278" rx="5.87" ry="11.75" fill="url(#b_halo)"/>
<ellipse cx="334.6" cy="287.9" rx="8.81" ry="7.83" fill="url(#b_halo)"/>
<ellipse cx="363.6" cy="286.4" rx="7.83" ry="6.85" fill="url(#b_halo)"/>
<ellipse cx="382.7" cy="280.3" rx="6.85" ry="7.83" fill="url(#b_halo)"/>
<ellipse cx="352.9" cy="259.5" rx="3.92" ry="3.92" fill="url(#b_halo)"/>
<ellipse cx="338" cy="262" rx="4.89" ry="4.89" fill="url(#b_halo)"/>
<ellipse cx="341" cy="237" rx="17.40" ry="8.70" fill="url(#b_navy)" transform="rotate(-15 341 237)"/>
<ellipse cx="352.9" cy="259.5" rx="2.90" ry="2.90" fill="url(#b_navy)"/>
<ellipse cx="338" cy="262" rx="3.62" ry="3.62" fill="url(#b_navy)"/>
<ellipse cx="349.9" cy="248.1" rx="4.35" ry="3.62" fill="url(#b_blue)"/>
<ellipse cx="381.2" cy="245" rx="5.08" ry="8.70" fill="url(#b_blue)"/>
<ellipse cx="350.7" cy="278" rx="4.35" ry="8.70" fill="url(#b_blue)"/>
<ellipse cx="363.6" cy="286.4" rx="5.80" ry="5.08" fill="url(#b_blue)"/>
<ellipse cx="382.7" cy="280.3" rx="5.08" ry="5.80" fill="url(#b_blue)"/>
<ellipse cx="325.5" cy="265" rx="5.80" ry="8.70" fill="url(#b_bluep)"/>
<ellipse cx="375.1" cy="227.5" rx="6.52" ry="5.80" fill="url(#b_cyan)" transform="rotate(30 375.1 227.5)"/>
<ellipse cx="364.4" cy="240.4" rx="5.08" ry="4.35" fill="url(#b_cyan)"/>
<ellipse cx="359.8" cy="246.5" rx="5.08" ry="3.62" fill="url(#b_cyan)"/>
<ellipse cx="329.3" cy="253.8" rx="5.80" ry="4.35" fill="url(#b_cyan)"/>
<ellipse cx="372.8" cy="259.6" rx="7.25" ry="2.90" fill="url(#b_cyan)" transform="rotate(-10 372.8 259.6)"/>
<ellipse cx="341.2" cy="271.9" rx="4.35" ry="4.35" fill="url(#b_cyan)"/>
<ellipse cx="334.6" cy="287.9" rx="6.52" ry="5.80" fill="url(#b_cyan)"/>
<ellipse cx="348.4" cy="262.7" rx="6.52" ry="5.08" fill="url(#b_green)" transform="rotate(-30 348.4 262.7)"/>
<ellipse cx="357.5" cy="271.9" rx="4.35" ry="5.08" fill="url(#b_green)"/>
<ellipse cx="336.9" cy="239.7" rx="9.42" ry="6.52" fill="url(#b_orange)" transform="rotate(-45 336.9 239.7)"/>
<ellipse cx="367.8" cy="267.3" rx="5.80" ry="6.52" fill="url(#b_red)"/>
</g></g>
<circle cx="355.3" cy="257.3" r="37.7" fill="none" stroke="#222" stroke-width="0.6"/>
<path d="M317.6,257.3 H395.5 M355.3,217.10000000000002 V295.0" stroke="#111" stroke-width="0.6" fill="none"/>
<text x="355.3" y="216.20000000000002" font-size="6.2" font-weight="normal" text-anchor="middle" fill="#222" >Y</text>
<text x="398.8" y="259.5" font-size="6.2" font-weight="normal" text-anchor="middle" fill="#222" >X</text>
<text x="309" y="224.20000000000002" font-size="9.5" font-weight="normal" text-anchor="start" fill="#111" >(111)</text>
<rect x="403.3" y="219.9" width="7.6" height="50.6" fill="url(#cbar)"/>
<text x="413.2" y="221.5" font-size="2.6" font-weight="bold" text-anchor="start" fill="#333" >3.00</text>
<text x="413.2" y="271.3" font-size="2.6" font-weight="bold" text-anchor="start" fill="#333" >0.70</text>
<text x="397.4" y="276.5" font-size="2.4" font-weight="bold" text-anchor="start" fill="#333" >max = 3.01</text>
<text x="397.4" y="279.6" font-size="2.4" font-weight="bold" text-anchor="start" fill="#333" >min = 0.11</text>
<text x="397.4" y="282.8" font-size="2.4" font-weight="bold" text-anchor="start" fill="#333" >Lmax = 22</text>
<text x="397.4" y="285.9" font-size="2.4" font-weight="bold" text-anchor="start" fill="#333" >Stereographic</text>
<defs>
<radialGradient id="g_dgray"><stop offset="0" stop-color="#3c444c" stop-opacity="1"/><stop offset="0.45" stop-color="#4c545c" stop-opacity="1"/><stop offset="0.62" stop-color="#7a8088" stop-opacity="1"/><stop offset="0.72" stop-color="#18204a" stop-opacity="1"/><stop offset="0.86" stop-color="#0818a0" stop-opacity="0.9"/><stop offset="1" stop-color="#0a28e0" stop-opacity="0"/></radialGradient>
<radialGradient id="g_white"><stop offset="0" stop-color="#ffffff" stop-opacity="1"/><stop offset="0.3" stop-color="#e8e8e8" stop-opacity="1"/><stop offset="0.5" stop-color="#a0a4a8" stop-opacity="1"/><stop offset="0.66" stop-color="#50565e" stop-opacity="1"/><stop offset="0.76" stop-color="#18204a" stop-opacity="1"/><stop offset="0.88" stop-color="#0818a0" stop-opacity="0.9"/><stop offset="1" stop-color="#0a28e0" stop-opacity="0"/></radialGradient>
<radialGradient id="g_gray"><stop offset="0" stop-color="#9a9ea4" stop-opacity="1"/><stop offset="0.35" stop-color="#6a7078" stop-opacity="1"/><stop offset="0.6" stop-color="#40464e" stop-opacity="1"/><stop offset="0.72" stop-color="#18204a" stop-opacity="1"/><stop offset="0.86" stop-color="#0818a0" stop-opacity="0.9"/><stop offset="1" stop-color="#0a28e0" stop-opacity="0"/></radialGradient>
<radialGradient id="g_cyan"><stop offset="0" stop-color="#30f0d8" stop-opacity="1"/><stop offset="0.22" stop-color="#28e0e8" stop-opacity="1"/><stop offset="0.42" stop-color="#20b0f8" stop-opacity="1"/><stop offset="0.62" stop-color="#1478ff" stop-opacity="1"/><stop offset="0.82" stop-color="#0c48f4" stop-opacity="0.85"/><stop offset="1" stop-color="#0a28e0" stop-opacity="0"/></radialGradient>
<radialGradient id="g_lblue"><stop offset="0" stop-color="#2080ff" stop-opacity="1"/><stop offset="0.5" stop-color="#1458f8" stop-opacity="0.9"/><stop offset="1" stop-color="#0a28e0" stop-opacity="0"/></radialGradient>
<radialGradient id="g_lblue2"><stop offset="0" stop-color="#2c9cff" stop-opacity="1"/><stop offset="0.4" stop-color="#2488ff" stop-opacity="1"/><stop offset="0.68" stop-color="#1660fa" stop-opacity="0.9"/><stop offset="1" stop-color="#0a28e0" stop-opacity="0"/></radialGradient>
<radialGradient id="g_cyancore"><stop offset="0" stop-color="#20f4c4" stop-opacity="1"/><stop offset="0.4" stop-color="#24ecd8" stop-opacity="1"/><stop offset="0.65" stop-color="#24d4f0" stop-opacity="1"/><stop offset="0.85" stop-color="#20acfc" stop-opacity="0.8"/><stop offset="1" stop-color="#1c98ff" stop-opacity="0"/></radialGradient>
<radialGradient id="g_dgray2"><stop offset="0" stop-color="#343c44" stop-opacity="1"/><stop offset="0.5" stop-color="#3e464e" stop-opacity="1"/><stop offset="0.6" stop-color="#2e3650" stop-opacity="1"/><stop offset="0.72" stop-color="#121c74" stop-opacity="1"/><stop offset="0.88" stop-color="#0c20b4" stop-opacity="0.9"/><stop offset="1" stop-color="#0a28e0" stop-opacity="0"/></radialGradient>
<radialGradient id="g_lgrayX"><stop offset="0" stop-color="#c4c8cc" stop-opacity="1"/><stop offset="0.28" stop-color="#a0a4aa" stop-opacity="1"/><stop offset="0.52" stop-color="#6a7078" stop-opacity="1"/><stop offset="0.66" stop-color="#3a4252" stop-opacity="1"/><stop offset="0.78" stop-color="#121c74" stop-opacity="1"/><stop offset="0.9" stop-color="#0c20b4" stop-opacity="0.9"/><stop offset="1" stop-color="#0a28e0" stop-opacity="0"/></radialGradient>
<radialGradient id="g_green"><stop offset="0" stop-color="#3cf060" stop-opacity="1"/><stop offset="0.3" stop-color="#2cec80" stop-opacity="1"/><stop offset="0.45" stop-color="#20dcc8" stop-opacity="1"/><stop offset="0.6" stop-color="#20b0f8" stop-opacity="1"/><stop offset="0.78" stop-color="#1270ff" stop-opacity="1"/><stop offset="0.91" stop-color="#0c44f2" stop-opacity="0.8"/><stop offset="1" stop-color="#0a28e0" stop-opacity="0"/></radialGradient>
<radialGradient id="g_red"><stop offset="0" stop-color="#d80000" stop-opacity="1"/><stop offset="0.3" stop-color="#f01000" stop-opacity="1"/><stop offset="0.4" stop-color="#ff5000" stop-opacity="1"/><stop offset="0.48" stop-color="#ffa000" stop-opacity="1"/><stop offset="0.56" stop-color="#f8e800" stop-opacity="1"/><stop offset="0.64" stop-color="#60e840" stop-opacity="1"/><stop offset="0.73" stop-color="#20d8c8" stop-opacity="1"/><stop offset="0.83" stop-color="#18a0f8" stop-opacity="1"/><stop offset="0.92" stop-color="#1060ff" stop-opacity="0.9"/><stop offset="1" stop-color="#0a28e0" stop-opacity="0"/></radialGradient>
<radialGradient id="g_red2"><stop offset="0" stop-color="#ff2c00" stop-opacity="1"/><stop offset="0.2" stop-color="#ff5000" stop-opacity="1"/><stop offset="0.34" stop-color="#ffa000" stop-opacity="1"/><stop offset="0.45" stop-color="#f0e800" stop-opacity="1"/><stop offset="0.56" stop-color="#50e850" stop-opacity="1"/><stop offset="0.68" stop-color="#20d8d0" stop-opacity="1"/><stop offset="0.82" stop-color="#1890ff" stop-opacity="1"/><stop offset="0.93" stop-color="#1060ff" stop-opacity="0.8"/><stop offset="1" stop-color="#0a28e0" stop-opacity="0"/></radialGradient>
<radialGradient id="g_navy"><stop offset="0" stop-color="#0c1870" stop-opacity="1"/><stop offset="0.6" stop-color="#0818a0" stop-opacity="0.8"/><stop offset="1" stop-color="#0a28e0" stop-opacity="0"/></radialGradient>
</defs>
<clipPath id="ic1"><path d="M442.30,116.90 L506.69,53.64 A249.9,249.9 0 0 1 515.50,116.90 Z"/></clipPath>
<g clip-path="url(#ic1)">
<rect x="440.3" y="51.637545476932" width="79.2" height="67.26245452306802" fill="#0a28e0"/>
<ellipse cx="507" cy="88" rx="11" ry="17" fill="url(#g_lblue2)"/>
<ellipse cx="485.6" cy="113.4" rx="6" ry="5" fill="url(#g_lblue2)"/>
<ellipse cx="465.8" cy="95.7" rx="24" ry="11.5" fill="url(#g_cyan)" transform="rotate(-44 465.8 95.7)"/>
<ellipse cx="466.3" cy="94.7" rx="16.5" ry="6.8" fill="url(#g_cyancore)" transform="rotate(-44 466.3 94.7)"/>
<ellipse cx="491.9" cy="69.3" rx="15" ry="12.5" fill="url(#g_dgray2)" transform="rotate(-44 491.9 69.3)"/>
<ellipse cx="503.5" cy="111.5" rx="18" ry="13" fill="url(#g_lgrayX)"/>
<ellipse cx="474" cy="116.5" rx="13.5" ry="9.5" fill="url(#g_gray)"/>
<ellipse cx="443" cy="117" rx="10" ry="7" fill="url(#g_gray)"/>
<ellipse cx="491.9" cy="69.3" rx="9" ry="7" fill="none" stroke="#dfe3ea" stroke-width="0.3" opacity="0.55" transform="rotate(-44 491.9 69.3)"/>
<ellipse cx="491.9" cy="69.3" rx="13.5" ry="11.5" fill="none" stroke="#dfe3ea" stroke-width="0.3" opacity="0.4" transform="rotate(-44 491.9 69.3)"/>
<ellipse cx="503.5" cy="111.5" rx="11.5" ry="8" fill="none" stroke="#dfe3ea" stroke-width="0.3" opacity="0.55"/>
<ellipse cx="503.5" cy="111.5" rx="6" ry="4" fill="none" stroke="#dfe3ea" stroke-width="0.3" opacity="0.4"/>
<ellipse cx="474" cy="116.5" rx="8.5" ry="6" fill="none" stroke="#dfe3ea" stroke-width="0.3" opacity="0.55"/>
<ellipse cx="466.3" cy="94.7" rx="18" ry="8.5" fill="none" stroke="#dfe3ea" stroke-width="0.3" opacity="0.45" transform="rotate(-44 466.3 94.7)"/>
<ellipse cx="507" cy="88" rx="7" ry="12" fill="none" stroke="#dfe3ea" stroke-width="0.3" opacity="0.35"/>
</g>
<path d="M442.30,116.90 L506.69,53.64 A249.9,249.9 0 0 1 515.50,116.90 Z" fill="none" stroke="#333" stroke-width="0.5"/>
<text x="506.7" y="51.0" font-size="6.2" font-weight="normal" text-anchor="middle" fill="#222" >(101)</text>
<text x="442.8" y="124.5" font-size="6.2" font-weight="normal" text-anchor="middle" fill="#222" >(001)</text>
<text x="514.5" y="124.5" font-size="6.2" font-weight="normal" text-anchor="middle" fill="#222" >(101)</text>
<text x="453.4" y="72.0" font-size="9.5" font-weight="normal" text-anchor="middle" fill="#111" >X</text>
<rect x="526.2" y="53.14" width="6.1" height="3.94" fill="#7a0000"/>
<rect x="526.2" y="56.93" width="6.1" height="3.94" fill="#c80000"/>
<rect x="526.2" y="60.72" width="6.1" height="3.94" fill="#ff1800"/>
<rect x="526.2" y="64.51" width="6.1" height="3.94" fill="#ff6800"/>
<rect x="526.2" y="68.31" width="6.1" height="3.94" fill="#ffa800"/>
<rect x="526.2" y="72.10" width="6.1" height="3.94" fill="#ffe800"/>
<rect x="526.2" y="75.89" width="6.1" height="3.94" fill="#a8e800"/>
<rect x="526.2" y="79.68" width="6.1" height="3.94" fill="#38d838"/>
<rect x="526.2" y="83.47" width="6.1" height="3.94" fill="#20c8a0"/>
<rect x="526.2" y="87.26" width="6.1" height="3.94" fill="#18a8e8"/>
<rect x="526.2" y="91.06" width="6.1" height="3.94" fill="#1068ff"/>
<rect x="526.2" y="94.85" width="6.1" height="3.94" fill="#0838f0"/>
<rect x="526.2" y="98.64" width="6.1" height="3.94" fill="#0820b8"/>
<rect x="526.2" y="102.43" width="6.1" height="3.94" fill="#283868"/>
<rect x="526.2" y="106.22" width="6.1" height="3.94" fill="#70787f"/>
<rect x="526.2" y="110.02" width="6.1" height="3.94" fill="#c4c8cc"/>
<rect x="526.2" y="113.81" width="6.1" height="3.94" fill="#f8f8f8"/>
<rect x="526.2" y="53.14" width="6.1" height="64.46" fill="none" stroke="#777" stroke-width="0.25"/>
<text x="535.8" y="54.3" font-size="2.7" font-weight="bold" text-anchor="start" fill="#333" >1.80</text>
<text x="535.8" y="60.1" font-size="2.7" font-weight="bold" text-anchor="start" fill="#333" >1.70</text>
<text x="535.8" y="65.9" font-size="2.7" font-weight="bold" text-anchor="start" fill="#333" >1.60</text>
<text x="535.8" y="71.7" font-size="2.7" font-weight="bold" text-anchor="start" fill="#333" >1.50</text>
<text x="535.8" y="77.5" font-size="2.7" font-weight="bold" text-anchor="start" fill="#333" >1.40</text>
<text x="535.8" y="83.3" font-size="2.7" font-weight="bold" text-anchor="start" fill="#333" >1.30</text>
<text x="535.8" y="89.1" font-size="2.7" font-weight="bold" text-anchor="start" fill="#333" >1.20</text>
<text x="535.8" y="94.9" font-size="2.7" font-weight="bold" text-anchor="start" fill="#333" >1.10</text>
<text x="535.8" y="100.6" font-size="2.7" font-weight="bold" text-anchor="start" fill="#333" >1.00</text>
<text x="535.8" y="106.4" font-size="2.7" font-weight="bold" text-anchor="start" fill="#333" >0.90</text>
<text x="535.8" y="112.2" font-size="2.7" font-weight="bold" text-anchor="start" fill="#333" >0.80</text>
<text x="535.8" y="118.0" font-size="2.7" font-weight="bold" text-anchor="start" fill="#333" >0.70</text>
<defs><filter id="ib" x="-20%" y="-20%" width="140%" height="140%"><feGaussianBlur stdDeviation="1.6"/></filter><filter id="ib4" x="-20%" y="-20%" width="140%" height="140%"><feGaussianBlur stdDeviation="2.2"/></filter><filter id="ib3" x="-20%" y="-20%" width="140%" height="140%"><feGaussianBlur stdDeviation="0.6"/></filter><filter id="ib2" x="-20%" y="-20%" width="140%" height="140%"><feGaussianBlur stdDeviation="1.0"/></filter>
<radialGradient id="g_whiteY"><stop offset="0" stop-color="#ffffff" stop-opacity="1"/><stop offset="0.38" stop-color="#f4f4f4" stop-opacity="1"/><stop offset="0.58" stop-color="#c0c4c8" stop-opacity="1"/><stop offset="0.78" stop-color="#80868c" stop-opacity="0.9"/><stop offset="1" stop-color="#5c626a" stop-opacity="0"/></radialGradient>
</defs>
<clipPath id="ic2"><path d="M442.30,202.90 L506.69,139.64 A249.9,249.9 0 0 1 515.50,202.90 Z"/></clipPath>
<g clip-path="url(#ic2)">
<rect x="440.3" y="137.637545476932" width="79.2" height="67.26245452306802" fill="#0a28e0"/>
<path d="M507.3,138 L512.5,139 L514,164 Q504,170 496,179 Q493,191 491,199 Q479,205 465,198 L453,189 Z" fill="#0a1a98" stroke="#0a1a98" stroke-width="6" stroke-linejoin="round" filter="url(#ib4)"/>
<path d="M507.3,138 L512.5,139 L513.5,161 Q502,167 493.5,176.5 Q490.5,188.5 488.5,196.5 Q479,201.5 467,195.5 L456,186.5 Z" fill="#0c1870" stroke="#0c1870" stroke-width="6" stroke-linejoin="round" filter="url(#ib)"/>
<path d="M507.3,138 L512,139 L512,159 Q500,165 492,174 Q489,186 487,194 Q479,198.5 467.5,193 L458,185 Z" fill="#3a4048" filter="url(#ib3)"/>
<path d="M507.3,140 L510,142 L509.5,156 Q498,162 489.5,172 Q487,184 484.5,191 Q478,194.5 469,190.5 L461,184 Z" fill="#5c626a" filter="url(#ib2)"/>
<ellipse cx="474.8" cy="180.8" rx="15" ry="14.5" fill="url(#g_whiteY)"/>
<ellipse cx="442.4" cy="202.9" rx="25" ry="25" fill="url(#g_red)"/>
<ellipse cx="492" cy="200" rx="8" ry="4" fill="url(#g_lblue)"/>
<ellipse cx="511" cy="185" rx="5" ry="10" fill="url(#g_lblue)"/>
<ellipse cx="474.8" cy="180.8" rx="9.5" ry="9.2" fill="none" stroke="#dfe3ea" stroke-width="0.3" opacity="0.55"/>
<path d="M512.5,159.5 Q501,165.5 492.5,175 Q489.5,187 487.5,195 Q479,199.5 467.3,194 L457,185.5" fill="none" stroke="#dfe3ea" stroke-width="0.3" opacity="0.55"/>
<path d="M513,168 Q504,173 497,181 Q495,192 492,200 Q480,206 464,199 L452,191" fill="none" stroke="#dfe3ea" stroke-width="0.3" opacity="0.35"/>
<path d="M511.5,150 Q498,156 488,166 L480,170" fill="none" stroke="#dfe3ea" stroke-width="0.3" opacity="0.4"/>
</g>
<path d="M442.30,202.90 L506.69,139.64 A249.9,249.9 0 0 1 515.50,202.90 Z" fill="none" stroke="#333" stroke-width="0.5"/>
<text x="506.7" y="137.0" font-size="6.2" font-weight="normal" text-anchor="middle" fill="#222" >(101)</text>
<text x="442.8" y="210.5" font-size="6.2" font-weight="normal" text-anchor="middle" fill="#222" >(001)</text>
<text x="514.5" y="210.5" font-size="6.2" font-weight="normal" text-anchor="middle" fill="#222" >(101)</text>
<text x="453.4" y="158.0" font-size="9.5" font-weight="normal" text-anchor="middle" fill="#111" >Y</text>
<rect x="526.2" y="139.14" width="6.1" height="3.94" fill="#7a0000"/>
<rect x="526.2" y="142.93" width="6.1" height="3.94" fill="#c80000"/>
<rect x="526.2" y="146.72" width="6.1" height="3.94" fill="#ff1800"/>
<rect x="526.2" y="150.51" width="6.1" height="3.94" fill="#ff6800"/>
<rect x="526.2" y="154.31" width="6.1" height="3.94" fill="#ffa800"/>
<rect x="526.2" y="158.10" width="6.1" height="3.94" fill="#ffe800"/>
<rect x="526.2" y="161.89" width="6.1" height="3.94" fill="#a8e800"/>
<rect x="526.2" y="165.68" width="6.1" height="3.94" fill="#38d838"/>
<rect x="526.2" y="169.47" width="6.1" height="3.94" fill="#20c8a0"/>
<rect x="526.2" y="173.26" width="6.1" height="3.94" fill="#18a8e8"/>
<rect x="526.2" y="177.06" width="6.1" height="3.94" fill="#1068ff"/>
<rect x="526.2" y="180.85" width="6.1" height="3.94" fill="#0838f0"/>
<rect x="526.2" y="184.64" width="6.1" height="3.94" fill="#0820b8"/>
<rect x="526.2" y="188.43" width="6.1" height="3.94" fill="#283868"/>
<rect x="526.2" y="192.22" width="6.1" height="3.94" fill="#70787f"/>
<rect x="526.2" y="196.02" width="6.1" height="3.94" fill="#c4c8cc"/>
<rect x="526.2" y="199.81" width="6.1" height="3.94" fill="#f8f8f8"/>
<rect x="526.2" y="139.14" width="6.1" height="64.46" fill="none" stroke="#777" stroke-width="0.25"/>
<text x="535.8" y="140.3" font-size="2.7" font-weight="bold" text-anchor="start" fill="#333" >1.80</text>
<text x="535.8" y="146.1" font-size="2.7" font-weight="bold" text-anchor="start" fill="#333" >1.70</text>
<text x="535.8" y="151.9" font-size="2.7" font-weight="bold" text-anchor="start" fill="#333" >1.60</text>
<text x="535.8" y="157.7" font-size="2.7" font-weight="bold" text-anchor="start" fill="#333" >1.50</text>
<text x="535.8" y="163.5" font-size="2.7" font-weight="bold" text-anchor="start" fill="#333" >1.40</text>
<text x="535.8" y="169.3" font-size="2.7" font-weight="bold" text-anchor="start" fill="#333" >1.30</text>
<text x="535.8" y="175.1" font-size="2.7" font-weight="bold" text-anchor="start" fill="#333" >1.20</text>
<text x="535.8" y="180.9" font-size="2.7" font-weight="bold" text-anchor="start" fill="#333" >1.10</text>
<text x="535.8" y="186.6" font-size="2.7" font-weight="bold" text-anchor="start" fill="#333" >1.00</text>
<text x="535.8" y="192.4" font-size="2.7" font-weight="bold" text-anchor="start" fill="#333" >0.90</text>
<text x="535.8" y="198.2" font-size="2.7" font-weight="bold" text-anchor="start" fill="#333" >0.80</text>
<text x="535.8" y="204.0" font-size="2.7" font-weight="bold" text-anchor="start" fill="#333" >0.70</text>
<clipPath id="ic3"><path d="M442.30,288.90 L506.69,225.64 A249.9,249.9 0 0 1 515.50,288.90 Z"/></clipPath>
<g clip-path="url(#ic3)">
<rect x="440.3" y="223.63754547693196" width="79.2" height="67.26245452306802" fill="#0a28e0"/>
<path d="M486.5,242.0 Q495.0,263.0 504.0,277.0 Q510.0,284.0 522.0,286.5 L530,200 L500,200 L484.5,240.0 Z" fill="#0c1870" stroke="#0c1870" stroke-width="4" filter="url(#ib)"/>
<path d="M487.4,240.5 Q495.9,261.5 504.9,275.5 Q510.9,282.5 522.9,285.0 L530,200 L500,200 L485.4,238.5 Z" fill="#2c3238" filter="url(#ib3)"/>
<path d="M488.6,238.4 Q497.1,259.4 506.1,273.4 Q512.1,280.4 524.1,282.9 L530,200 L500,200 L486.6,236.4 Z" fill="#565c64" filter="url(#ib2)"/>
<path d="M490.1,235.9 Q498.6,256.9 507.6,270.9 Q513.6,277.9 525.6,280.4 L530,200 L500,200 L488.1,233.9 Z" fill="#888c92" filter="url(#ib2)"/>
<path d="M491.6,233.3 Q500.1,254.3 509.1,268.3 Q515.1,275.3 527.1,277.8 L530,200 L500,200 L489.6,231.3 Z" fill="#bcc0c4" filter="url(#ib2)"/>
<path d="M493.4,230.3 Q501.9,251.3 510.9,265.3 Q516.9,272.3 528.9,274.8 L530,200 L500,200 L491.4,228.3 Z" fill="#fbfbfb" filter="url(#ib)"/>
<ellipse cx="476" cy="281" rx="18" ry="7" fill="url(#g_lblue2)" transform="rotate(-8 476 281)"/>
<ellipse cx="482" cy="252" rx="9" ry="5" fill="url(#g_navy)" transform="rotate(-44 482 252)"/>
<ellipse cx="477.1" cy="257.9" rx="8" ry="7" fill="url(#g_dgray)"/>
<ellipse cx="490.6" cy="284.8" rx="13.5" ry="12.5" fill="url(#g_green)"/>
<ellipse cx="460.3" cy="273.2" rx="18" ry="17" fill="url(#g_red2)"/>
<ellipse cx="477.1" cy="257.9" rx="5.8" ry="4.8" fill="none" stroke="#dfe3ea" stroke-width="0.3" opacity="0.55"/>
<ellipse cx="460.3" cy="273.2" rx="14.5" ry="13.5" fill="none" stroke="#dfe3ea" stroke-width="0.3" opacity="0.35"/>
<ellipse cx="490.6" cy="284.8" rx="9.5" ry="8.5" fill="none" stroke="#dfe3ea" stroke-width="0.3" opacity="0.35"/>
<path d="M486.8,241.5 Q495.3,262.5 504.3,276.5 Q510.3,283.5 522.3,286.0" fill="none" stroke="#dfe3ea" stroke-width="0.3" opacity="0.5"/>
<path d="M489.0,237.8 Q497.5,258.8 506.5,272.8 Q512.5,279.8 524.5,282.2" fill="none" stroke="#dfe3ea" stroke-width="0.3" opacity="0.4"/>
<path d="M491.0,234.3 Q499.5,255.3 508.5,269.4 Q514.5,276.4 526.5,278.9" fill="none" stroke="#dfe3ea" stroke-width="0.3" opacity="0.35"/>
</g>
<path d="M442.30,288.90 L506.69,225.64 A249.9,249.9 0 0 1 515.50,288.90 Z" fill="none" stroke="#333" stroke-width="0.5"/>
<text x="506.7" y="223.0" font-size="6.2" font-weight="normal" text-anchor="middle" fill="#222" >(101)</text>
<text x="442.8" y="296.5" font-size="6.2" font-weight="normal" text-anchor="middle" fill="#222" >(001)</text>
<text x="514.5" y="296.5" font-size="6.2" font-weight="normal" text-anchor="middle" fill="#222" >(101)</text>
<text x="453.4" y="244.0" font-size="9.5" font-weight="normal" text-anchor="middle" fill="#111" >Z</text>
<rect x="526.2" y="225.14" width="6.1" height="3.94" fill="#7a0000"/>
<rect x="526.2" y="228.93" width="6.1" height="3.94" fill="#c80000"/>
<rect x="526.2" y="232.72" width="6.1" height="3.94" fill="#ff1800"/>
<rect x="526.2" y="236.51" width="6.1" height="3.94" fill="#ff6800"/>
<rect x="526.2" y="240.31" width="6.1" height="3.94" fill="#ffa800"/>
<rect x="526.2" y="244.10" width="6.1" height="3.94" fill="#ffe800"/>
<rect x="526.2" y="247.89" width="6.1" height="3.94" fill="#a8e800"/>
<rect x="526.2" y="251.68" width="6.1" height="3.94" fill="#38d838"/>
<rect x="526.2" y="255.47" width="6.1" height="3.94" fill="#20c8a0"/>
<rect x="526.2" y="259.26" width="6.1" height="3.94" fill="#18a8e8"/>
<rect x="526.2" y="263.06" width="6.1" height="3.94" fill="#1068ff"/>
<rect x="526.2" y="266.85" width="6.1" height="3.94" fill="#0838f0"/>
<rect x="526.2" y="270.64" width="6.1" height="3.94" fill="#0820b8"/>
<rect x="526.2" y="274.43" width="6.1" height="3.94" fill="#283868"/>
<rect x="526.2" y="278.22" width="6.1" height="3.94" fill="#70787f"/>
<rect x="526.2" y="282.02" width="6.1" height="3.94" fill="#c4c8cc"/>
<rect x="526.2" y="285.81" width="6.1" height="3.94" fill="#f8f8f8"/>
<rect x="526.2" y="225.14" width="6.1" height="64.46" fill="none" stroke="#777" stroke-width="0.25"/>
<text x="535.8" y="226.3" font-size="2.7" font-weight="bold" text-anchor="start" fill="#333" >1.80</text>
<text x="535.8" y="232.1" font-size="2.7" font-weight="bold" text-anchor="start" fill="#333" >1.70</text>
<text x="535.8" y="237.9" font-size="2.7" font-weight="bold" text-anchor="start" fill="#333" >1.60</text>
<text x="535.8" y="243.7" font-size="2.7" font-weight="bold" text-anchor="start" fill="#333" >1.50</text>
<text x="535.8" y="249.5" font-size="2.7" font-weight="bold" text-anchor="start" fill="#333" >1.40</text>
<text x="535.8" y="255.3" font-size="2.7" font-weight="bold" text-anchor="start" fill="#333" >1.30</text>
<text x="535.8" y="261.1" font-size="2.7" font-weight="bold" text-anchor="start" fill="#333" >1.20</text>
<text x="535.8" y="266.9" font-size="2.7" font-weight="bold" text-anchor="start" fill="#333" >1.10</text>
<text x="535.8" y="272.6" font-size="2.7" font-weight="bold" text-anchor="start" fill="#333" >1.00</text>
<text x="535.8" y="278.4" font-size="2.7" font-weight="bold" text-anchor="start" fill="#333" >0.90</text>
<text x="535.8" y="284.2" font-size="2.7" font-weight="bold" text-anchor="start" fill="#333" >0.80</text>
<text x="535.8" y="290.0" font-size="2.7" font-weight="bold" text-anchor="start" fill="#333" >0.70</text>
</svg></body></html>
